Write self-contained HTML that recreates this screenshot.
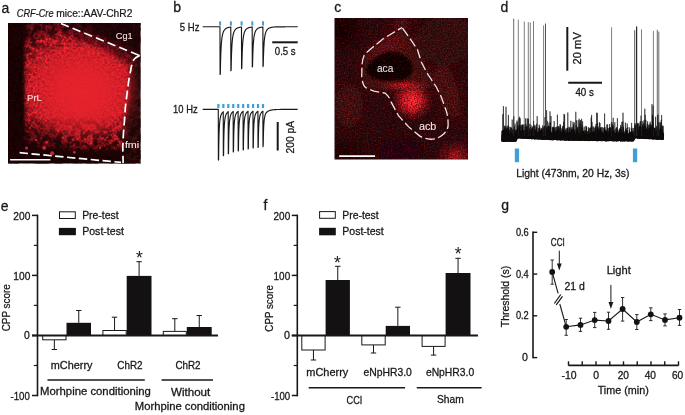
<!DOCTYPE html>
<html lang="en"><head><meta charset="utf-8"><title>Figure</title>
<style>
html,body{margin:0;padding:0;background:#fff;}
body{width:685px;height:415px;overflow:hidden;}
svg{display:block;font-family:"Liberation Sans",sans-serif;}
</style></head><body>
<svg width="685" height="415" viewBox="0 0 685 415">
<rect width="685" height="415" fill="#fff"/>
<defs>
<clipPath id="clipA"><rect x="8" y="23" width="132.6" height="140.5"/></clipPath>
<clipPath id="clipC"><rect x="334.5" y="18" width="133.5" height="141.5"/></clipPath>
<filter id="blur1" x="-20%" y="-20%" width="140%" height="140%"><feGaussianBlur stdDeviation="1"/></filter>
<filter id="blur2" x="-20%" y="-20%" width="140%" height="140%"><feGaussianBlur stdDeviation="2"/></filter>
<filter id="blur3" x="-20%" y="-20%" width="140%" height="140%"><feGaussianBlur stdDeviation="3.5"/></filter>
<filter id="blur6" x="-30%" y="-30%" width="160%" height="160%"><feGaussianBlur stdDeviation="6"/></filter>
<filter id="blur10" x="-50%" y="-50%" width="200%" height="200%"><feGaussianBlur stdDeviation="10"/></filter>
<filter id="texA" filterUnits="userSpaceOnUse" x="8" y="23" width="133" height="141" color-interpolation-filters="sRGB">
  <feTurbulence type="fractalNoise" baseFrequency="0.42" numOctaves="3" seed="7" result="n"/>
  <feColorMatrix in="n" type="matrix" values="1 0 0 0 0  1 0 0 0 0  1 0 0 0 0  0 0 0 0 1" result="ng"/>
  <feComposite in="SourceGraphic" in2="ng" operator="arithmetic" k1="1.5" k2="0.25" k3="0" k4="0" result="m"/>
  <feColorMatrix in="n" type="matrix" values="0 0.6 0 0 -0.36  0 0.07 0 0 -0.04  0 0.09 0 0 -0.05  0 0 0 0 1" result="nr"/>
  <feComposite in="m" in2="nr" operator="arithmetic" k1="0" k2="1" k3="1" k4="0"/>
</filter>
<filter id="texC" filterUnits="userSpaceOnUse" x="334.5" y="18" width="133.5" height="141.5" color-interpolation-filters="sRGB">
  <feTurbulence type="fractalNoise" baseFrequency="0.7" numOctaves="2" seed="3" result="n"/>
  <feColorMatrix in="n" type="matrix" values="1 0 0 0 0  1 0 0 0 0  1 0 0 0 0  0 0 0 0 1" result="ng"/>
  <feComposite in="SourceGraphic" in2="ng" operator="arithmetic" k1="2.0" k2="0.0" k3="0" k4="0" result="m"/>
  <feColorMatrix in="n" type="matrix" values="0 0.8 0 0 -0.43  0 0.09 0 0 -0.05  0 0.1 0 0 -0.055  0 0 0 0 1" result="nr"/>
  <feComposite in="m" in2="nr" operator="arithmetic" k1="0" k2="1" k3="1" k4="0"/>
</filter>
<filter id="blotch" filterUnits="userSpaceOnUse" x="8" y="23" width="133" height="141" color-interpolation-filters="sRGB">
  <feTurbulence type="fractalNoise" baseFrequency="0.16" numOctaves="3" seed="21" result="n"/>
  <feColorMatrix in="n" type="matrix" values="0 0 0 0 0  0 0 0 0 0  0 0 0 0 0  5 0 0 0 -2.0" result="mask"/>
  <feComposite in="SourceGraphic" in2="mask" operator="in"/>
</filter>
<radialGradient id="gAd" gradientUnits="userSpaceOnUse" cx="80" cy="90" r="84" gradientTransform="translate(80 90) scale(1 0.88) translate(-80 -90)">
  <stop offset="0" stop-color="#1a0406" stop-opacity="0"/>
  <stop offset="0.58" stop-color="#1a0406" stop-opacity="0"/>
  <stop offset="0.85" stop-color="#1a0406" stop-opacity="0.8"/>
  <stop offset="1" stop-color="#1a0406" stop-opacity="0.95"/>
</radialGradient>
<linearGradient id="gAb" gradientUnits="userSpaceOnUse" x1="0" y1="116" x2="0" y2="152">
  <stop offset="0" stop-color="#1a0406" stop-opacity="0"/>
  <stop offset="1" stop-color="#1a0406" stop-opacity="0.9"/>
</linearGradient>
<radialGradient id="gA1" cx="0.5" cy="0.5" r="0.5">
  <stop offset="0" stop-color="#ee2630" stop-opacity="1"/>
  <stop offset="0.55" stop-color="#e0222c" stop-opacity="0.75"/>
  <stop offset="1" stop-color="#d01e28" stop-opacity="0"/>
</radialGradient>
<radialGradient id="gA2" cx="0.5" cy="0.5" r="0.5">
  <stop offset="0" stop-color="#e8232d" stop-opacity="0.95"/>
  <stop offset="0.4" stop-color="#e4222c" stop-opacity="0.9"/>
  <stop offset="0.7" stop-color="#de202a" stop-opacity="0.6"/>
  <stop offset="1" stop-color="#d81f29" stop-opacity="0"/>
</radialGradient>
<radialGradient id="gC1" cx="0.5" cy="0.5" r="0.5">
  <stop offset="0" stop-color="#f02832" stop-opacity="1"/>
  <stop offset="0.4" stop-color="#d8202a" stop-opacity="0.8"/>
  <stop offset="1" stop-color="#a01018" stop-opacity="0"/>
</radialGradient>
<radialGradient id="gC2" cx="0.5" cy="0.5" r="0.5">
  <stop offset="0" stop-color="#c01820" stop-opacity="0.9"/>
  <stop offset="1" stop-color="#801018" stop-opacity="0"/>
</radialGradient>
</defs>

<text x="1.4" y="12.6" font-size="14" fill="#1a1718" stroke="#1a1718" stroke-width="0.28" >a</text>
<text x="16.8" y="16.8" font-size="10.2" textLength="36.7" lengthAdjust="spacingAndGlyphs" fill="#1a1718" stroke="#1a1718" stroke-width="0.22" font-style="italic">CRF-Cre</text>
<text x="56.2" y="16.8" font-size="10.2" textLength="76.2" lengthAdjust="spacingAndGlyphs" fill="#1a1718" stroke="#1a1718" stroke-width="0.22" >mice::AAV-ChR2</text>
<g clip-path="url(#clipA)">
<g filter="url(#texA)">
<rect x="6" y="21" width="137" height="145" fill="#200507"/>
<g filter="url(#blur3)">
<polygon points="26,20 66,20 104,38 137,53 132,70 60,50 26,50" fill="#6e1117"/>
<polygon points="132,60 128,100 125,160 141,160 141,60" fill="#3a090c"/>
</g>
<g filter="url(#blur2)">
<polygon points="25,44 40,36 62,33 98,48 131,66 129,90 126,120 123,150 80,151 40,148 25,140 24,90" fill="#c41b25"/>
</g>
<g filter="url(#blur6)">
<polygon points="14,147 126,153 126,172 14,172" fill="#1a0406" opacity="0.9"/>
<polygon points="18,120 62,130 70,152 18,150" fill="#1a0406" opacity="0.5"/>
<polygon points="60,138 124,138 124,154 60,154" fill="#1a0406" opacity="0.35"/>
</g>
<g filter="url(#blur1)"><polygon points="5,20 26,20 23.5,40 23,60 24,110 22.5,150 5,168" fill="#150304"/></g>
</g>
<ellipse cx="82" cy="92" rx="58" ry="52" fill="url(#gA2)"/>
<g filter="url(#blotch)"><rect x="8" y="23" width="133" height="141" fill="url(#gAd)"/><rect x="8" y="110" width="133" height="54" fill="url(#gAb)"/></g>
<circle cx="26.5" cy="148.1" r="1.5" fill="#e8262e" opacity="0.9"/>
<circle cx="44.2" cy="147.8" r="1.9" fill="#e8262e" opacity="0.9"/>
<circle cx="46.6" cy="142.3" r="1.4" fill="#e8262e" opacity="0.9"/>
<circle cx="52.1" cy="153.2" r="2.0" fill="#e8262e" opacity="0.9"/>
<circle cx="74.3" cy="152.3" r="1.4" fill="#e8262e" opacity="0.9"/>
<circle cx="63.4" cy="137.7" r="1.3" fill="#e8262e" opacity="0.9"/>
<circle cx="90.8" cy="143.2" r="1.2" fill="#e8262e" opacity="0.9"/>
<circle cx="72.9" cy="139.6" r="1.2" fill="#e8262e" opacity="0.9"/>
<circle cx="36" cy="140" r="1.1" fill="#e8262e" opacity="0.9"/>
<circle cx="58" cy="131" r="1.2" fill="#e8262e" opacity="0.9"/>
<circle cx="100" cy="148" r="1.0" fill="#e8262e" opacity="0.9"/>
<circle cx="112" cy="141" r="1.0" fill="#e8262e" opacity="0.9"/>
<circle cx="30" cy="128" r="1.0" fill="#e8262e" opacity="0.9"/>
<circle cx="84" cy="133" r="1.1" fill="#e8262e" opacity="0.9"/>
</g>
<path d="M60 23.2 L139.6 55.6" fill="none" stroke="#fff" stroke-width="1.7" stroke-dasharray="8.4 4.2" stroke-dashoffset="-1"/>
<path d="M139.8 55.4 Q134 58 132.3 62.1 L131.2 67.3 L128.8 80.3 L127.1 93.3 L125.4 106.8 L124.5 120.1 L123.4 133.6 L122.8 146.6 L123.1 163" fill="none" stroke="#fff" stroke-width="1.7" stroke-dasharray="8.9 4.2" stroke-dashoffset="0.2"/>
<path d="M19.6 152.7 L121 162.4" fill="none" stroke="#fff" stroke-width="1.7" stroke-dasharray="8.4 3.5"/>
<line x1="10.10" y1="159.70" x2="50.30" y2="159.70" stroke="#fff" stroke-width="1.6" />
<text x="27.1" y="100.6" font-size="9.8" textLength="14.7" lengthAdjust="spacingAndGlyphs" fill="#ffd9d9" stroke="#ffd9d9" stroke-width="0.1" >PrL</text>
<text x="115.8" y="38.8" font-size="9.8" textLength="16.9" lengthAdjust="spacingAndGlyphs" fill="#f3e2e2" stroke="#f3e2e2" stroke-width="0.1" >Cg1</text>
<text x="124.9" y="148.0" font-size="9.8" textLength="14.3" lengthAdjust="spacingAndGlyphs" fill="#f6eaea" stroke="#f6eaea" stroke-width="0.1" >fmi</text>
<text x="173.2" y="12.0" font-size="14" fill="#1a1718" stroke="#1a1718" stroke-width="0.28" >b</text>
<text x="179.8" y="31.4" font-size="10.2" textLength="19.6" lengthAdjust="spacingAndGlyphs" fill="#1a1718" stroke="#1a1718" stroke-width="0.28" >5 Hz</text>
<text x="173.1" y="113.1" font-size="10.2" textLength="24.5" lengthAdjust="spacingAndGlyphs" fill="#1a1718" stroke="#1a1718" stroke-width="0.28" >10 Hz</text>
<path d="M202.70 26.80 L219.98 26.80 L220.10 74.40 L220.33 73.94 L220.35 72.91 L220.37 71.50 L220.40 69.80 L220.44 67.88 L220.48 65.82 L220.53 63.68 L220.58 61.49 L220.64 59.32 L220.71 57.18 L220.78 55.10 L220.85 53.11 L220.92 51.22 L221.01 49.44 L221.09 47.76 L221.18 46.20 L221.27 44.75 L221.37 43.40 L221.47 42.16 L221.58 41.01 L221.69 39.95 L221.80 38.97 L221.91 38.07 L222.03 37.24 L222.16 36.48 L222.28 35.77 L222.41 35.12 L222.55 34.52 L222.69 33.96 L222.83 33.45 L222.97 32.97 L223.12 32.53 L223.27 32.12 L223.42 31.75 L223.58 31.40 L223.74 31.07 L223.90 30.77 L224.06 30.49 L224.23 30.23 L224.41 29.98 L224.58 29.76 L224.76 29.55 L224.94 29.35 L225.12 29.17 L225.31 29.00 L225.50 28.84 L225.70 28.70 L225.89 28.56 L226.09 28.43 L226.29 28.31 L226.50 28.20 L226.70 28.10 L226.91 28.00 L227.13 27.91 L227.34 27.83 L227.56 27.75 L227.78 27.67 L228.01 27.61 L228.23 27.54 L228.46 27.48 L228.69 27.43 L228.93 27.38 L229.17 27.33 L229.41 27.29 L229.65 27.25 L229.89 27.21 L230.14 27.18 L230.39 27.14 L230.64 27.12 L230.90 27.09 L230.78 27.09 L230.90 70.70 L231.13 70.28 L231.14 69.34 L231.17 68.05 L231.20 66.49 L231.24 64.74 L231.28 62.85 L231.33 60.89 L231.38 58.88 L231.44 56.89 L231.50 54.92 L231.57 53.02 L231.64 51.19 L231.72 49.44 L231.80 47.80 L231.88 46.26 L231.97 44.82 L232.07 43.47 L232.16 42.23 L232.26 41.08 L232.37 40.02 L232.47 39.04 L232.58 38.13 L232.70 37.30 L232.82 36.53 L232.94 35.82 L233.07 35.16 L233.19 34.56 L233.33 34.00 L233.46 33.48 L233.60 33.01 L233.74 32.57 L233.89 32.16 L234.04 31.78 L234.19 31.42 L234.35 31.10 L234.50 30.80 L234.67 30.51 L234.83 30.25 L235.00 30.01 L235.17 29.78 L235.34 29.57 L235.52 29.38 L235.70 29.20 L235.88 29.03 L236.06 28.87 L236.25 28.72 L236.44 28.58 L236.64 28.45 L236.84 28.34 L237.03 28.22 L237.24 28.12 L237.44 28.02 L237.65 27.93 L237.86 27.85 L238.08 27.77 L238.29 27.70 L238.51 27.63 L238.73 27.56 L238.96 27.50 L239.18 27.45 L239.41 27.40 L239.65 27.35 L239.88 27.31 L240.12 27.26 L240.36 27.23 L240.60 27.19 L240.85 27.16 L241.10 27.13 L241.35 27.10 L241.60 27.07 L241.48 27.07 L241.60 68.70 L241.83 68.30 L241.84 67.40 L241.87 66.17 L241.90 64.69 L241.94 63.01 L241.98 61.21 L242.03 59.33 L242.08 57.42 L242.14 55.52 L242.20 53.64 L242.27 51.82 L242.34 50.07 L242.42 48.41 L242.50 46.84 L242.58 45.37 L242.67 43.99 L242.77 42.71 L242.86 41.53 L242.96 40.43 L243.07 39.42 L243.17 38.48 L243.28 37.62 L243.40 36.82 L243.52 36.09 L243.64 35.41 L243.77 34.78 L243.89 34.21 L244.03 33.67 L244.16 33.18 L244.30 32.72 L244.44 32.30 L244.59 31.91 L244.74 31.55 L244.89 31.21 L245.05 30.90 L245.20 30.61 L245.37 30.34 L245.53 30.10 L245.70 29.86 L245.87 29.65 L246.04 29.45 L246.22 29.26 L246.40 29.09 L246.58 28.92 L246.76 28.77 L246.95 28.63 L247.14 28.50 L247.34 28.38 L247.54 28.27 L247.73 28.16 L247.94 28.06 L248.14 27.97 L248.35 27.88 L248.56 27.80 L248.78 27.72 L248.99 27.65 L249.21 27.59 L249.43 27.53 L249.66 27.47 L249.88 27.42 L250.11 27.37 L250.35 27.32 L250.58 27.28 L250.82 27.24 L251.06 27.21 L251.30 27.17 L251.55 27.14 L251.80 27.11 L252.05 27.09 L252.30 27.06 L252.18 27.06 L252.30 66.90 L252.53 66.51 L252.54 65.66 L252.57 64.48 L252.60 63.06 L252.64 61.46 L252.68 59.73 L252.73 57.94 L252.78 56.11 L252.84 54.28 L252.90 52.49 L252.97 50.75 L253.04 49.07 L253.12 47.48 L253.20 45.98 L253.28 44.57 L253.37 43.26 L253.47 42.03 L253.56 40.90 L253.66 39.84 L253.77 38.87 L253.87 37.98 L253.98 37.15 L254.10 36.39 L254.22 35.69 L254.34 35.04 L254.47 34.44 L254.59 33.89 L254.73 33.38 L254.86 32.91 L255.00 32.47 L255.14 32.07 L255.29 31.69 L255.44 31.35 L255.59 31.02 L255.75 30.73 L255.90 30.45 L256.07 30.19 L256.23 29.95 L256.40 29.73 L256.57 29.53 L256.74 29.33 L256.92 29.16 L257.10 28.99 L257.28 28.83 L257.46 28.69 L257.65 28.55 L257.84 28.43 L258.04 28.31 L258.24 28.20 L258.43 28.10 L258.64 28.01 L258.84 27.92 L259.05 27.83 L259.26 27.76 L259.48 27.68 L259.69 27.62 L259.91 27.56 L260.13 27.50 L260.36 27.44 L260.58 27.39 L260.81 27.35 L261.05 27.30 L261.28 27.26 L261.52 27.22 L261.76 27.19 L262.00 27.16 L262.25 27.13 L262.50 27.10 L262.75 27.07 L263.00 27.05 L262.88 27.05 L263.00 66.60 L263.25 65.37 L263.30 62.79 L263.38 59.50 L263.49 55.90 L263.61 52.31 L263.75 48.93 L263.91 45.86 L264.08 43.15 L264.27 40.81 L264.48 38.80 L264.70 37.09 L264.94 35.64 L265.19 34.40 L265.46 33.34 L265.73 32.44 L266.02 31.67 L266.33 31.00 L266.65 30.43 L266.98 29.94 L267.32 29.51 L267.67 29.15 L268.04 28.83 L268.42 28.55 L268.81 28.31 L269.21 28.10 L269.62 27.91 L270.05 27.75 L270.48 27.62 L270.93 27.50 L271.39 27.39 L271.85 27.30 L272.33 27.22 L272.82 27.16 L273.32 27.10 L273.83 27.05 L274.35 27.01 L274.88 26.97 L275.42 26.94 L275.98 26.92 L276.54 26.90 L277.11 26.88 L277.69 26.87 L278.28 26.85 L278.88 26.84 L279.49 26.84 L280.11 26.83 L280.74 26.82 L281.38 26.82 L282.02 26.81 L282.68 26.81 L283.35 26.81 L284.02 26.81 L284.71 26.81 L285.40 26.80 L286.10 26.80 L286.82 26.80 L287.54 26.80 L288.27 26.80 L289.00 26.80 L289.75 26.80 L290.51 26.80 L291.27 26.80 L292.05 26.80 L292.83 26.80 L293.62 26.80 L294.42 26.80 L295.23 26.80 L296.04 26.80 L296.87 26.80 L297.70 26.80" fill="none" stroke="#1a1718" stroke-width="1.14" stroke-linejoin="round"/>
<line x1="220.10" y1="21.30" x2="220.10" y2="25.60" stroke="#3f9fd6" stroke-width="2.0" />
<line x1="230.90" y1="21.30" x2="230.90" y2="25.60" stroke="#3f9fd6" stroke-width="2.0" />
<line x1="241.60" y1="21.30" x2="241.60" y2="25.60" stroke="#3f9fd6" stroke-width="2.0" />
<line x1="252.30" y1="21.30" x2="252.30" y2="25.60" stroke="#3f9fd6" stroke-width="2.0" />
<line x1="263.00" y1="21.30" x2="263.00" y2="25.60" stroke="#3f9fd6" stroke-width="2.0" />
<path d="M202.70 109.40 L218.28 109.40 L218.40 160.10 L218.62 159.69 L218.63 158.80 L218.64 157.57 L218.66 156.08 L218.67 154.41 L218.69 152.62 L218.71 150.75 L218.74 148.84 L218.76 146.94 L218.79 145.06 L218.82 143.24 L218.86 141.48 L218.89 139.80 L218.93 138.20 L218.97 136.68 L219.01 135.24 L219.05 133.89 L219.09 132.62 L219.14 131.42 L219.18 130.29 L219.23 129.22 L219.28 128.21 L219.33 127.27 L219.39 126.37 L219.44 125.52 L219.50 124.72 L219.56 123.96 L219.62 123.25 L219.68 122.57 L219.74 121.93 L219.81 121.32 L219.87 120.74 L219.94 120.20 L220.01 119.69 L220.08 119.20 L220.15 118.74 L220.22 118.31 L220.30 117.90 L220.37 117.52 L220.45 117.15 L220.53 116.81 L220.61 116.49 L220.69 116.18 L220.77 115.89 L220.85 115.62 L220.94 115.36 L221.03 115.12 L221.11 114.89 L221.20 114.67 L221.29 114.46 L221.38 114.27 L221.48 114.08 L221.57 113.90 L221.67 113.73 L221.76 113.57 L221.86 113.42 L221.96 113.27 L222.06 113.13 L222.16 112.99 L222.26 112.86 L222.37 112.74 L222.47 112.62 L222.58 112.50 L222.69 112.39 L222.79 112.28 L222.90 112.18 L223.02 112.08 L223.13 111.98 L223.24 111.89 L223.36 111.80 L223.24 111.80 L223.36 155.80 L223.58 155.43 L223.59 154.61 L223.60 153.49 L223.61 152.13 L223.63 150.60 L223.65 148.95 L223.67 147.24 L223.69 145.50 L223.72 143.75 L223.75 142.04 L223.78 140.37 L223.81 138.76 L223.85 137.22 L223.88 135.75 L223.92 134.37 L223.96 133.05 L224.00 131.81 L224.05 130.65 L224.09 129.55 L224.14 128.51 L224.19 127.54 L224.24 126.62 L224.29 125.75 L224.34 124.93 L224.40 124.16 L224.45 123.42 L224.51 122.73 L224.57 122.07 L224.63 121.45 L224.70 120.86 L224.76 120.31 L224.83 119.78 L224.89 119.28 L224.96 118.81 L225.03 118.37 L225.10 117.95 L225.18 117.55 L225.25 117.18 L225.33 116.83 L225.40 116.50 L225.48 116.18 L225.56 115.89 L225.64 115.61 L225.73 115.34 L225.81 115.09 L225.89 114.86 L225.98 114.63 L226.07 114.42 L226.16 114.22 L226.25 114.03 L226.34 113.85 L226.43 113.68 L226.53 113.52 L226.62 113.37 L226.72 113.22 L226.82 113.08 L226.91 112.94 L227.01 112.81 L227.12 112.69 L227.22 112.57 L227.32 112.45 L227.43 112.34 L227.53 112.24 L227.64 112.13 L227.75 112.04 L227.86 111.94 L227.97 111.85 L228.08 111.76 L228.20 111.68 L228.31 111.59 L228.19 111.59 L228.31 153.80 L228.53 153.45 L228.54 152.66 L228.55 151.59 L228.57 150.28 L228.58 148.82 L228.60 147.25 L228.62 145.61 L228.65 143.94 L228.67 142.27 L228.70 140.63 L228.73 139.04 L228.77 137.50 L228.80 136.02 L228.84 134.62 L228.88 133.29 L228.92 132.03 L228.96 130.85 L229.00 129.73 L229.05 128.68 L229.09 127.69 L229.14 126.76 L229.19 125.88 L229.24 125.05 L229.30 124.26 L229.35 123.52 L229.41 122.82 L229.47 122.15 L229.53 121.53 L229.59 120.93 L229.65 120.37 L229.72 119.84 L229.78 119.33 L229.85 118.86 L229.92 118.41 L229.99 117.98 L230.06 117.58 L230.13 117.20 L230.21 116.84 L230.28 116.51 L230.36 116.19 L230.44 115.89 L230.52 115.61 L230.60 115.34 L230.68 115.09 L230.76 114.85 L230.85 114.62 L230.94 114.41 L231.02 114.21 L231.11 114.02 L231.20 113.83 L231.29 113.66 L231.39 113.50 L231.48 113.34 L231.58 113.19 L231.67 113.05 L231.77 112.92 L231.87 112.79 L231.97 112.66 L232.07 112.54 L232.17 112.43 L232.28 112.32 L232.38 112.22 L232.49 112.11 L232.60 112.02 L232.70 111.92 L232.81 111.83 L232.93 111.74 L233.04 111.66 L233.15 111.58 L233.27 111.50 L233.15 111.50 L233.27 151.90 L233.49 151.56 L233.50 150.81 L233.51 149.78 L233.52 148.53 L233.54 147.13 L233.56 145.63 L233.58 144.06 L233.60 142.46 L233.63 140.87 L233.66 139.30 L233.69 137.77 L233.72 136.29 L233.76 134.88 L233.79 133.54 L233.83 132.27 L233.87 131.06 L233.91 129.93 L233.96 128.86 L234.00 127.86 L234.05 126.91 L234.10 126.01 L234.15 125.17 L234.20 124.38 L234.25 123.63 L234.31 122.92 L234.36 122.24 L234.42 121.61 L234.48 121.01 L234.54 120.44 L234.61 119.90 L234.67 119.39 L234.74 118.91 L234.80 118.45 L234.87 118.02 L234.94 117.62 L235.01 117.23 L235.09 116.87 L235.16 116.53 L235.24 116.20 L235.31 115.90 L235.39 115.61 L235.47 115.34 L235.55 115.08 L235.64 114.84 L235.72 114.61 L235.80 114.40 L235.89 114.19 L235.98 114.00 L236.07 113.82 L236.16 113.64 L236.25 113.48 L236.34 113.32 L236.44 113.17 L236.53 113.03 L236.63 112.90 L236.73 112.77 L236.82 112.64 L236.92 112.52 L237.03 112.41 L237.13 112.30 L237.23 112.20 L237.34 112.10 L237.44 112.00 L237.55 111.90 L237.66 111.81 L237.77 111.73 L237.88 111.64 L237.99 111.56 L238.11 111.48 L238.22 111.41 L238.10 111.41 L238.22 150.90 L238.44 150.57 L238.45 149.84 L238.46 148.83 L238.48 147.61 L238.49 146.25 L238.51 144.78 L238.53 143.24 L238.56 141.68 L238.58 140.13 L238.61 138.59 L238.64 137.10 L238.68 135.66 L238.71 134.28 L238.75 132.97 L238.79 131.73 L238.83 130.55 L238.87 129.45 L238.91 128.40 L238.96 127.42 L239.00 126.50 L239.05 125.62 L239.10 124.80 L239.15 124.02 L239.21 123.29 L239.26 122.60 L239.32 121.94 L239.38 121.32 L239.44 120.73 L239.50 120.18 L239.56 119.65 L239.63 119.16 L239.69 118.68 L239.76 118.24 L239.83 117.82 L239.90 117.42 L239.97 117.05 L240.04 116.69 L240.12 116.36 L240.19 116.04 L240.27 115.75 L240.35 115.47 L240.43 115.20 L240.51 114.95 L240.59 114.71 L240.67 114.49 L240.76 114.28 L240.85 114.08 L240.93 113.89 L241.02 113.71 L241.11 113.54 L241.20 113.38 L241.30 113.23 L241.39 113.09 L241.49 112.95 L241.58 112.81 L241.68 112.69 L241.78 112.57 L241.88 112.45 L241.98 112.34 L242.08 112.23 L242.19 112.13 L242.29 112.03 L242.40 111.94 L242.51 111.85 L242.61 111.76 L242.72 111.67 L242.84 111.59 L242.95 111.51 L243.06 111.43 L243.18 111.36 L243.06 111.36 L243.18 149.90 L243.40 149.58 L243.41 148.86 L243.42 147.88 L243.43 146.69 L243.45 145.36 L243.47 143.92 L243.49 142.43 L243.51 140.91 L243.54 139.39 L243.57 137.89 L243.60 136.43 L243.63 135.03 L243.67 133.68 L243.70 132.40 L243.74 131.19 L243.78 130.04 L243.82 128.96 L243.87 127.95 L243.91 126.99 L243.96 126.08 L244.01 125.23 L244.06 124.43 L244.11 123.67 L244.16 122.96 L244.22 122.28 L244.27 121.64 L244.33 121.03 L244.39 120.46 L244.45 119.92 L244.52 119.41 L244.58 118.92 L244.65 118.46 L244.71 118.03 L244.78 117.62 L244.85 117.23 L244.92 116.86 L245.00 116.52 L245.07 116.19 L245.15 115.88 L245.22 115.59 L245.30 115.32 L245.38 115.06 L245.46 114.82 L245.55 114.59 L245.63 114.37 L245.71 114.16 L245.80 113.97 L245.89 113.78 L245.98 113.61 L246.07 113.44 L246.16 113.29 L246.25 113.14 L246.35 113.00 L246.44 112.86 L246.54 112.73 L246.64 112.61 L246.73 112.49 L246.83 112.38 L246.94 112.27 L247.04 112.16 L247.14 112.06 L247.25 111.97 L247.35 111.88 L247.46 111.79 L247.57 111.70 L247.68 111.62 L247.79 111.54 L247.90 111.46 L248.02 111.39 L248.13 111.31 L248.01 111.31 L248.13 148.90 L248.35 148.58 L248.36 147.89 L248.37 146.93 L248.39 145.77 L248.40 144.47 L248.42 143.07 L248.44 141.61 L248.47 140.13 L248.49 138.65 L248.52 137.19 L248.55 135.76 L248.59 134.39 L248.62 133.08 L248.66 131.84 L248.70 130.65 L248.74 129.54 L248.78 128.48 L248.82 127.49 L248.87 126.55 L248.91 125.67 L248.96 124.84 L249.01 124.06 L249.06 123.32 L249.12 122.62 L249.17 121.96 L249.23 121.34 L249.29 120.75 L249.35 120.19 L249.41 119.66 L249.47 119.16 L249.54 118.68 L249.60 118.24 L249.67 117.81 L249.74 117.41 L249.81 117.04 L249.88 116.68 L249.95 116.34 L250.03 116.02 L250.10 115.72 L250.18 115.44 L250.26 115.17 L250.34 114.92 L250.42 114.68 L250.50 114.46 L250.58 114.25 L250.67 114.05 L250.76 113.86 L250.84 113.68 L250.93 113.51 L251.02 113.35 L251.11 113.19 L251.21 113.05 L251.30 112.91 L251.40 112.78 L251.49 112.65 L251.59 112.53 L251.69 112.41 L251.79 112.30 L251.89 112.20 L251.99 112.10 L252.10 112.00 L252.20 111.91 L252.31 111.81 L252.42 111.73 L252.52 111.64 L252.63 111.56 L252.75 111.49 L252.86 111.41 L252.97 111.34 L253.09 111.27 L252.97 111.27 L253.09 147.90 L253.31 147.59 L253.32 146.91 L253.33 145.98 L253.34 144.85 L253.36 143.58 L253.38 142.22 L253.40 140.80 L253.42 139.35 L253.45 137.91 L253.48 136.48 L253.51 135.10 L253.54 133.76 L253.58 132.48 L253.61 131.27 L253.65 130.11 L253.69 129.03 L253.73 128.00 L253.78 127.03 L253.82 126.12 L253.87 125.26 L253.92 124.45 L253.97 123.69 L254.02 122.97 L254.07 122.29 L254.13 121.64 L254.18 121.04 L254.24 120.46 L254.30 119.91 L254.36 119.40 L254.43 118.91 L254.49 118.45 L254.56 118.01 L254.62 117.60 L254.69 117.21 L254.76 116.84 L254.83 116.49 L254.91 116.17 L254.98 115.86 L255.06 115.56 L255.13 115.29 L255.21 115.03 L255.29 114.78 L255.37 114.55 L255.46 114.33 L255.54 114.12 L255.62 113.93 L255.71 113.74 L255.80 113.57 L255.89 113.40 L255.98 113.25 L256.07 113.10 L256.16 112.95 L256.26 112.82 L256.35 112.69 L256.45 112.57 L256.55 112.45 L256.64 112.34 L256.74 112.23 L256.85 112.13 L256.95 112.03 L257.05 111.93 L257.16 111.84 L257.26 111.75 L257.37 111.67 L257.48 111.59 L257.59 111.51 L257.70 111.43 L257.81 111.36 L257.93 111.29 L258.04 111.22 L257.92 111.22 L258.04 147.40 L258.26 147.10 L258.27 146.43 L258.28 145.50 L258.30 144.39 L258.31 143.14 L258.33 141.79 L258.35 140.39 L258.38 138.96 L258.40 137.54 L258.43 136.13 L258.46 134.76 L258.50 133.45 L258.53 132.18 L258.57 130.98 L258.61 129.85 L258.65 128.77 L258.69 127.76 L258.73 126.80 L258.78 125.90 L258.82 125.05 L258.87 124.26 L258.92 123.50 L258.97 122.79 L259.03 122.12 L259.08 121.48 L259.14 120.88 L259.20 120.32 L259.26 119.78 L259.32 119.27 L259.38 118.79 L259.45 118.33 L259.51 117.90 L259.58 117.49 L259.65 117.11 L259.72 116.75 L259.79 116.40 L259.86 116.08 L259.94 115.77 L260.01 115.48 L260.09 115.21 L260.17 114.95 L260.25 114.71 L260.33 114.48 L260.41 114.27 L260.49 114.06 L260.58 113.87 L260.67 113.69 L260.75 113.51 L260.84 113.35 L260.93 113.20 L261.02 113.05 L261.12 112.91 L261.21 112.77 L261.31 112.65 L261.40 112.53 L261.50 112.41 L261.60 112.30 L261.70 112.19 L261.80 112.09 L261.90 111.99 L262.01 111.90 L262.11 111.81 L262.22 111.72 L262.33 111.64 L262.43 111.56 L262.54 111.48 L262.66 111.41 L262.77 111.33 L262.88 111.26 L263.00 111.20 L262.88 111.20 L263.00 146.80 L263.24 144.79 L263.30 140.89 L263.38 136.50 L263.48 132.35 L263.60 128.76 L263.74 125.77 L263.90 123.28 L264.08 121.21 L264.27 119.47 L264.48 118.01 L264.70 116.78 L264.94 115.76 L265.19 114.90 L265.45 114.19 L265.73 113.60 L266.02 113.09 L266.32 112.67 L266.64 112.30 L266.97 111.98 L267.31 111.70 L267.67 111.45 L268.04 111.22 L268.41 111.02 L268.80 110.84 L269.21 110.68 L269.62 110.53 L270.04 110.39 L270.48 110.27 L270.92 110.16 L271.38 110.07 L271.85 109.98 L272.33 109.90 L272.82 109.84 L273.32 109.78 L273.83 109.72 L274.35 109.68 L274.88 109.64 L275.42 109.60 L275.97 109.57 L276.53 109.55 L277.10 109.52 L277.69 109.50 L278.28 109.49 L278.88 109.47 L279.49 109.46 L280.11 109.45 L280.73 109.44 L281.37 109.43 L282.02 109.43 L282.68 109.42 L283.34 109.42 L284.02 109.42 L284.70 109.41 L285.40 109.41 L286.10 109.41 L286.81 109.41 L287.53 109.41 L288.26 109.40 L289.00 109.40 L289.75 109.40 L290.51 109.40 L291.27 109.40 L292.04 109.40 L292.83 109.40 L293.62 109.40 L294.42 109.40 L295.23 109.40 L296.04 109.40 L296.87 109.40 L297.70 109.40" fill="none" stroke="#1a1718" stroke-width="1.14" stroke-linejoin="round"/>
<line x1="218.40" y1="104.00" x2="218.40" y2="108.00" stroke="#3f9fd6" stroke-width="2.2" />
<line x1="223.36" y1="104.00" x2="223.36" y2="108.00" stroke="#3f9fd6" stroke-width="2.2" />
<line x1="228.31" y1="104.00" x2="228.31" y2="108.00" stroke="#3f9fd6" stroke-width="2.2" />
<line x1="233.27" y1="104.00" x2="233.27" y2="108.00" stroke="#3f9fd6" stroke-width="2.2" />
<line x1="238.22" y1="104.00" x2="238.22" y2="108.00" stroke="#3f9fd6" stroke-width="2.2" />
<line x1="243.18" y1="104.00" x2="243.18" y2="108.00" stroke="#3f9fd6" stroke-width="2.2" />
<line x1="248.13" y1="104.00" x2="248.13" y2="108.00" stroke="#3f9fd6" stroke-width="2.2" />
<line x1="253.09" y1="104.00" x2="253.09" y2="108.00" stroke="#3f9fd6" stroke-width="2.2" />
<line x1="258.04" y1="104.00" x2="258.04" y2="108.00" stroke="#3f9fd6" stroke-width="2.2" />
<line x1="263.00" y1="104.00" x2="263.00" y2="108.00" stroke="#3f9fd6" stroke-width="2.2" />
<line x1="272.20" y1="42.30" x2="297.70" y2="42.30" stroke="#1a1718" stroke-width="2.0" />
<text x="274.8" y="55.4" font-size="10.2" textLength="20.9" lengthAdjust="spacingAndGlyphs" fill="#1a1718" stroke="#1a1718" stroke-width="0.28" >0.5 s</text>
<line x1="277.70" y1="122.00" x2="277.70" y2="150.50" stroke="#1a1718" stroke-width="2.0" />
<text transform="translate(293.5 137.1) rotate(-90)" font-size="10.4" textLength="32.6" lengthAdjust="spacingAndGlyphs" text-anchor="middle" fill="#1a1718" stroke="#1a1718" stroke-width="0.28">200 pA</text>
<text x="334.2" y="12.1" font-size="14" fill="#1a1718" stroke="#1a1718" stroke-width="0.28" >c</text>
<g clip-path="url(#clipC)">
<g filter="url(#texC)">
<rect x="332" y="16" width="139" height="146" fill="#27070a"/>
<g filter="url(#blur6)">
<polygon points="402,26 385,38 369,49 362,63 362,77 366,88 392,92 420,92 436,84 423,64 416,46" fill="#420b0f"/>
<ellipse cx="386" cy="46" rx="19" ry="6" fill="#5e1015" transform="rotate(-32 386 46)"/>
<ellipse cx="349" cy="106" rx="14" ry="22" fill="#3c0a0e"/>
<ellipse cx="448" cy="92" rx="10" ry="28" fill="#480d11" transform="rotate(-16 448 92)"/>
<ellipse cx="446" cy="40" rx="30" ry="24" fill="#2f080b"/>
<ellipse cx="342" cy="30" rx="16" ry="18" fill="#180405"/>
<ellipse cx="345" cy="152" rx="16" ry="10" fill="#1c0506"/>
<ellipse cx="400" cy="150" rx="22" ry="12" fill="#220608"/>
<ellipse cx="402" cy="21" rx="4" ry="5" fill="#8a161c"/>
</g>
<ellipse cx="412" cy="101" rx="21" ry="20" fill="url(#gC1)"/>
<ellipse cx="404" cy="85.5" rx="30" ry="6" fill="url(#gC2)"/>
<ellipse cx="456" cy="156" rx="21" ry="17" fill="url(#gC2)" opacity="0.85"/>
<g filter="url(#blur1)"><path d="M366 69.5 Q371 57 389 51.5 Q407 52.5 412.5 65 Q414 76 404 79.5 Q385 83 372 78 Q367 74 366 69.5 Z" fill="#0e0203"/></g>
<g filter="url(#blur2)"><path d="M393 110 L395 126" stroke="#120304" stroke-width="3" fill="none"/></g>
</g>
</g>
<path d="M402 27.5 L394 32.3 L383.2 38.8 L372.4 47.5 Q365.5 53.5 364.4 54.7 Q362.2 60 362 65 L361.7 76.5 Q362.5 85 365.5 87.5 L373.9 91.2 L385.2 93.2 Q389 96 391.3 102.4 L398.5 115.7 L408.7 126.9 L419.9 136.1 Q426 139.6 432.2 139.2 Q438.5 138.5 442.4 135.1 Q447.5 131 448.1 125.9 Q448.3 118 446.5 111.6 L441.4 97.3 L436.3 87 L431.7 80 L427.3 73.5 L421.3 62 L417.5 49.7 L409.7 38.1 Z" fill="none" stroke="#f6e4e4" stroke-width="1.3" stroke-dasharray="9.4 3.5" stroke-dashoffset="4.7"/>
<line x1="339.20" y1="156.10" x2="375.00" y2="156.10" stroke="#fff" stroke-width="1.7" />
<text x="377.0" y="71.8" font-size="10" textLength="16.3" lengthAdjust="spacingAndGlyphs" fill="#eadfdf" stroke="#eadfdf" stroke-width="0.1" >aca</text>
<text x="418.9" y="130.4" font-size="10" textLength="17.4" lengthAdjust="spacingAndGlyphs" fill="#f2e8e8" stroke="#f2e8e8" stroke-width="0.1" >acb</text>
<text x="500.6" y="12.0" font-size="14" fill="#1a1718" stroke="#1a1718" stroke-width="0.28" >d</text>
<path d="M501.70 141.36 L501.80 130.83 L501.90 141.23 L502.00 134.56 L502.10 141.52 L502.20 135.27 L502.30 141.38 L502.40 130.34 L502.50 141.51 L502.60 130.17 L502.70 141.00 L502.80 114.23 L502.90 141.45 L503.00 131.58 L503.10 141.11 L503.20 135.48 L503.30 141.27 L503.40 106.20 L503.50 141.72 L503.60 130.49 L503.70 141.86 L503.80 130.79 L503.90 141.01 L504.00 130.12 L504.10 141.54 L504.20 130.07 L504.30 141.48 L504.40 125.68 L504.50 141.79 L504.60 130.97 L504.70 141.14 L504.80 127.31 L504.90 141.10 L505.00 127.55 L505.10 141.95 L505.20 135.46 L505.30 141.98 L505.40 125.87 L505.50 141.15 L505.60 130.24 L505.70 141.26 L505.80 131.42 L505.90 140.99 L506.00 106.77 L506.10 141.77 L506.20 129.32 L506.30 141.65 L506.40 128.37 L506.50 140.97 L506.60 128.82 L506.70 141.57 L506.80 130.27 L506.90 141.12 L507.00 126.25 L507.10 141.51 L507.20 135.02 L507.30 141.96 L507.40 135.48 L507.50 141.22 L507.60 127.65 L507.70 140.90 L507.80 132.39 L507.90 141.10 L508.00 125.50 L508.10 141.01 L508.20 128.27 L508.30 141.77 L508.40 114.93 L508.50 141.17 L508.60 126.26 L508.70 141.26 L508.80 134.69 L508.90 141.65 L509.00 130.07 L509.10 141.35 L509.20 129.22 L509.30 140.97 L509.40 134.29 L509.50 141.58 L509.60 135.27 L509.70 141.88 L509.80 134.61 L509.90 141.49 L510.00 126.82 L510.10 141.78 L510.20 133.68 L510.30 141.30 L510.40 127.34 L510.50 141.59 L510.60 133.84 L510.70 141.68 L510.80 131.64 L510.90 141.65 L511.00 133.42 L511.10 141.19 L511.20 127.91 L511.30 141.19 L511.40 133.60 L511.50 141.91 L511.60 127.57 L511.70 141.93 L511.80 132.76 L511.90 141.11 L512.00 134.51 L512.10 141.28 L512.20 119.56 L512.30 141.83 L512.40 134.51 L512.50 141.76 L512.60 135.12 L512.70 140.99 L512.80 129.53 L512.90 141.37 L513.00 135.18 L513.10 141.47 L513.20 129.21 L513.30 141.25 L513.40 135.15 L513.50 141.06 L513.60 132.10 L513.70 141.29 L513.80 116.40 L513.90 141.84 L514.00 133.13 L514.10 141.50 L514.20 128.74 L514.30 141.48 L514.40 130.61 L514.50 141.48 L514.60 126.00 L514.70 141.08 L514.80 135.44 L514.90 141.63 L515.00 123.54 L515.10 141.80 L515.20 131.91 L515.30 141.42 L515.40 134.02 L515.50 141.78 L515.60 132.84 L515.70 140.96 L515.80 129.66 L515.90 141.01 L516.00 129.78 L516.10 141.24 L516.20 136.26 L516.30 141.45 L516.40 135.85 L516.50 139.34 L516.60 130.37 L516.70 139.52 L516.80 130.05 L516.90 139.73 L517.00 120.53 L517.10 139.02 L517.20 121.90 L517.30 138.36 L517.40 125.26 L517.50 137.98 L517.60 129.55 L517.70 138.58 L517.80 129.85 L517.90 137.81 L518.00 128.40 L518.10 137.66 L518.20 129.72 L518.30 138.16 L518.40 126.25 L518.50 138.39 L518.60 125.53 L518.70 137.49 L518.80 118.21 L518.90 137.87 L519.00 129.95 L519.10 137.95 L519.20 132.20 L519.30 137.83 L519.40 128.80 L519.50 138.31 L519.60 116.69 L519.70 138.15 L519.80 125.36 L519.90 138.23 L520.00 125.91 L520.10 137.58 L520.20 118.39 L520.30 138.33 L520.40 130.70 L520.50 137.61 L520.60 132.03 L520.70 138.21 L520.80 133.25 L520.90 138.48 L521.00 131.18 L521.10 137.63 L521.20 124.90 L521.30 138.49 L521.40 133.35 L521.50 138.31 L521.60 132.38 L521.70 137.89 L521.80 129.98 L521.90 138.11 L522.00 125.74 L522.10 138.57 L522.20 124.63 L522.30 138.25 L522.40 126.30 L522.50 138.78 L522.60 125.27 L522.70 137.89 L522.80 129.88 L522.90 138.54 L523.00 124.41 L523.10 138.09 L523.20 131.63 L523.30 137.86 L523.40 130.15 L523.50 138.58 L523.60 130.98 L523.70 138.61 L523.80 134.04 L523.90 137.97 L524.00 124.49 L524.10 138.23 L524.20 130.60 L524.30 138.17 L524.40 132.44 L524.50 138.49 L524.60 132.26 L524.70 138.28 L524.80 129.94 L524.90 138.27 L525.00 126.86 L525.10 138.86 L525.20 130.07 L525.30 138.38 L525.40 130.10 L525.50 138.15 L525.60 118.44 L525.70 138.46 L525.80 129.83 L525.90 138.57 L526.00 124.01 L526.10 138.04 L526.20 133.30 L526.30 138.72 L526.40 126.19 L526.50 138.81 L526.60 133.99 L526.70 138.69 L526.80 132.50 L526.90 138.62 L527.00 126.93 L527.10 139.03 L527.20 118.31 L527.30 138.35 L527.40 133.24 L527.50 138.49 L527.60 129.08 L527.70 138.13 L527.80 126.10 L527.90 138.58 L528.00 133.10 L528.10 138.34 L528.20 118.93 L528.30 138.11 L528.40 118.81 L528.50 138.94 L528.60 129.61 L528.70 138.97 L528.80 134.29 L528.90 138.51 L529.00 130.36 L529.10 139.15 L529.20 128.05 L529.30 138.65 L529.40 130.42 L529.50 138.94 L529.60 130.41 L529.70 138.53 L529.80 123.79 L529.90 138.38 L530.00 132.22 L530.10 138.24 L530.20 131.37 L530.30 138.78 L530.40 129.98 L530.50 138.21 L530.60 129.21 L530.70 138.34 L530.80 127.01 L530.90 138.86 L531.00 124.82 L531.10 138.98 L531.20 128.77 L531.30 138.66 L531.40 133.66 L531.50 139.25 L531.60 130.23 L531.70 139.13 L531.80 131.32 L531.90 138.90 L532.00 128.43 L532.10 139.32 L532.20 128.62 L532.30 138.41 L532.40 133.25 L532.50 138.86 L532.60 126.41 L532.70 139.00 L532.80 133.10 L532.90 139.19 L533.00 127.21 L533.10 138.93 L533.20 127.40 L533.30 138.62 L533.40 132.57 L533.50 138.66 L533.60 120.97 L533.70 139.02 L533.80 132.10 L533.90 138.47 L534.00 131.03 L534.10 138.75 L534.20 124.76 L534.30 139.38 L534.40 130.15 L534.50 139.26 L534.60 126.43 L534.70 138.63 L534.80 130.92 L534.90 139.32 L535.00 134.75 L535.10 139.46 L535.20 125.37 L535.30 139.34 L535.40 130.63 L535.50 138.45 L535.60 129.10 L535.70 139.15 L535.80 131.41 L535.90 138.57 L536.00 133.72 L536.10 138.89 L536.20 132.75 L536.30 138.99 L536.40 127.19 L536.50 139.06 L536.60 123.78 L536.70 138.66 L536.80 128.51 L536.90 139.53 L537.00 134.97 L537.10 138.89 L537.20 116.16 L537.30 139.43 L537.40 131.89 L537.50 138.62 L537.60 133.60 L537.70 138.99 L537.80 131.70 L537.90 139.27 L538.00 133.43 L538.10 138.59 L538.20 132.18 L538.30 139.56 L538.40 133.02 L538.50 138.60 L538.60 128.07 L538.70 138.96 L538.80 133.09 L538.90 139.05 L539.00 130.99 L539.10 139.64 L539.20 124.70 L539.30 138.63 L539.40 127.86 L539.50 139.23 L539.60 126.36 L539.70 139.21 L539.80 134.05 L539.90 138.69 L540.00 133.42 L540.10 139.69 L540.20 131.52 L540.30 139.01 L540.40 130.34 L540.50 139.13 L540.60 129.54 L540.70 139.04 L540.80 130.62 L540.90 139.23 L541.00 127.80 L541.10 138.80 L541.20 132.70 L541.30 139.57 L541.40 130.24 L541.50 139.59 L541.60 128.40 L541.70 139.49 L541.80 134.48 L541.90 139.68 L542.00 130.39 L542.10 139.55 L542.20 128.99 L542.30 139.51 L542.40 133.24 L542.50 139.11 L542.60 125.41 L542.70 138.88 L542.80 132.61 L542.90 139.53 L543.00 131.23 L543.10 139.85 L543.20 127.85 L543.30 138.95 L543.40 127.19 L543.50 139.02 L543.60 131.13 L543.70 139.90 L543.80 130.70 L543.90 139.78 L544.00 133.57 L544.10 139.72 L544.20 126.14 L544.30 139.81 L544.40 134.16 L544.50 139.48 L544.60 130.73 L544.70 139.66 L544.80 126.00 L544.90 139.64 L545.00 117.04 L545.10 139.02 L545.20 125.33 L545.30 139.55 L545.40 134.56 L545.50 139.03 L545.60 130.98 L545.70 139.25 L545.80 129.88 L545.90 139.27 L546.00 129.17 L546.10 139.33 L546.20 132.61 L546.30 139.04 L546.40 127.71 L546.50 139.05 L546.60 110.20 L546.70 139.23 L546.80 130.83 L546.90 139.50 L547.00 126.91 L547.10 139.77 L547.20 132.84 L547.30 139.85 L547.40 120.92 L547.50 139.84 L547.60 131.69 L547.70 139.37 L547.80 129.92 L547.90 139.05 L548.00 126.44 L548.10 140.08 L548.20 129.39 L548.30 139.03 L548.40 125.67 L548.50 139.57 L548.60 131.02 L548.70 139.36 L548.80 126.54 L548.90 139.37 L549.00 122.67 L549.10 139.63 L549.20 131.66 L549.30 139.18 L549.40 130.25 L549.50 139.99 L549.60 126.44 L549.70 140.04 L549.80 134.72 L549.90 140.04 L550.00 111.36 L550.10 139.46 L550.20 130.33 L550.30 139.85 L550.40 122.02 L550.50 140.16 L550.60 127.24 L550.70 140.10 L550.80 131.00 L550.90 139.55 L551.00 116.04 L551.10 139.80 L551.20 133.61 L551.30 139.41 L551.40 133.34 L551.50 139.40 L551.60 133.62 L551.70 140.07 L551.80 132.07 L551.90 140.22 L552.00 132.16 L552.10 139.28 L552.20 133.24 L552.30 140.15 L552.40 127.42 L552.50 140.02 L552.60 133.72 L552.70 140.25 L552.80 127.38 L552.90 139.79 L553.00 131.91 L553.10 140.11 L553.20 126.52 L553.30 140.16 L553.40 135.38 L553.50 139.40 L553.60 127.23 L553.70 140.13 L553.80 128.20 L553.90 139.86 L554.00 129.46 L554.10 139.93 L554.20 121.08 L554.30 140.00 L554.40 131.57 L554.50 139.58 L554.60 133.54 L554.70 139.44 L554.80 130.77 L554.90 139.52 L555.00 127.47 L555.10 139.70 L555.20 127.17 L555.30 139.26 L555.40 134.40 L555.50 139.87 L555.60 133.39 L555.70 139.57 L555.80 133.19 L555.90 139.74 L556.00 129.67 L556.10 139.35 L556.20 131.37 L556.30 139.28 L556.40 131.16 L556.50 140.23 L556.60 133.06 L556.70 139.39 L556.80 126.63 L556.90 140.30 L557.00 126.94 L557.10 139.31 L557.20 131.02 L557.30 140.27 L557.40 114.65 L557.50 139.98 L557.60 131.46 L557.70 140.27 L557.80 134.58 L557.90 139.62 L558.00 129.26 L558.10 139.76 L558.20 127.24 L558.30 140.26 L558.40 126.00 L558.50 139.40 L558.60 134.33 L558.70 140.17 L558.80 131.89 L558.90 139.36 L559.00 129.88 L559.10 140.07 L559.20 128.15 L559.30 139.45 L559.40 133.04 L559.50 140.37 L559.60 134.56 L559.70 139.90 L559.80 126.24 L559.90 139.52 L560.00 124.13 L560.10 139.88 L560.20 134.16 L560.30 140.35 L560.40 130.82 L560.50 140.20 L560.60 124.86 L560.70 140.49 L560.80 131.80 L560.90 140.35 L561.00 134.47 L561.10 139.72 L561.20 131.17 L561.30 140.20 L561.40 128.35 L561.50 139.72 L561.60 133.93 L561.70 140.31 L561.80 133.14 L561.90 139.80 L562.00 133.63 L562.10 140.10 L562.20 134.81 L562.30 140.39 L562.40 130.24 L562.50 139.74 L562.60 126.14 L562.70 140.34 L562.80 132.67 L562.90 139.87 L563.00 128.76 L563.10 139.51 L563.20 126.28 L563.30 140.02 L563.40 134.00 L563.50 139.71 L563.60 121.82 L563.70 139.83 L563.80 134.69 L563.90 139.99 L564.00 113.91 L564.10 140.54 L564.20 131.41 L564.30 140.52 L564.40 131.75 L564.50 140.48 L564.60 114.59 L564.70 140.09 L564.80 131.20 L564.90 140.19 L565.00 135.28 L565.10 139.56 L565.20 129.78 L565.30 139.69 L565.40 132.88 L565.50 140.48 L565.60 135.34 L565.70 140.47 L565.80 129.19 L565.90 140.55 L566.00 134.11 L566.10 139.63 L566.20 127.89 L566.30 140.61 L566.40 134.05 L566.50 140.06 L566.60 135.34 L566.70 140.48 L566.80 132.78 L566.90 139.93 L567.00 131.24 L567.10 139.82 L567.20 130.22 L567.30 140.27 L567.40 128.26 L567.50 139.71 L567.60 127.73 L567.70 139.68 L567.80 112.47 L567.90 140.48 L568.00 129.48 L568.10 140.62 L568.20 132.41 L568.30 140.70 L568.40 132.95 L568.50 140.70 L568.60 133.40 L568.70 140.62 L568.80 135.07 L568.90 140.43 L569.00 126.78 L569.10 140.36 L569.20 131.75 L569.30 139.96 L569.40 127.64 L569.50 140.73 L569.60 131.86 L569.70 140.22 L569.80 127.71 L569.90 139.87 L570.00 131.57 L570.10 140.75 L570.20 133.55 L570.30 139.86 L570.40 133.35 L570.50 139.96 L570.60 133.91 L570.70 140.23 L570.80 120.72 L570.90 139.88 L571.00 130.80 L571.10 140.55 L571.20 127.36 L571.30 140.18 L571.40 128.99 L571.50 140.51 L571.60 131.49 L571.70 140.36 L571.80 128.84 L571.90 140.20 L572.00 134.88 L572.10 140.25 L572.20 132.77 L572.30 139.93 L572.40 129.50 L572.50 140.45 L572.60 135.33 L572.70 140.46 L572.80 126.77 L572.90 139.78 L573.00 121.75 L573.10 140.58 L573.20 130.08 L573.30 140.79 L573.40 128.26 L573.50 140.78 L573.60 124.26 L573.70 139.82 L573.80 128.84 L573.90 139.78 L574.00 131.18 L574.10 140.45 L574.20 122.40 L574.30 139.97 L574.40 131.69 L574.50 140.73 L574.60 131.37 L574.70 139.83 L574.80 131.22 L574.90 140.73 L575.00 129.66 L575.10 140.40 L575.20 134.08 L575.30 139.95 L575.40 134.76 L575.50 140.49 L575.60 134.21 L575.70 140.18 L575.80 111.81 L575.90 140.88 L576.00 135.97 L576.10 139.99 L576.20 125.18 L576.30 139.97 L576.40 120.30 L576.50 140.43 L576.60 135.24 L576.70 140.23 L576.80 128.97 L576.90 140.77 L577.00 135.73 L577.10 140.30 L577.20 129.84 L577.30 140.14 L577.40 127.02 L577.50 140.55 L577.60 132.35 L577.70 140.51 L577.80 128.10 L577.90 140.47 L578.00 131.78 L578.10 140.87 L578.20 120.23 L578.30 140.09 L578.40 132.18 L578.50 140.92 L578.60 134.17 L578.70 140.46 L578.80 133.22 L578.90 140.27 L579.00 126.41 L579.10 140.71 L579.20 118.66 L579.30 140.04 L579.40 134.38 L579.50 140.73 L579.60 133.42 L579.70 140.90 L579.80 135.22 L579.90 140.86 L580.00 123.05 L580.10 140.80 L580.20 120.24 L580.30 140.29 L580.40 134.70 L580.50 140.75 L580.60 134.70 L580.70 140.30 L580.80 120.33 L580.90 140.26 L581.00 134.41 L581.10 140.77 L581.20 127.23 L581.30 140.03 L581.40 131.38 L581.50 140.85 L581.60 118.81 L581.70 139.97 L581.80 131.44 L581.90 140.34 L582.00 134.43 L582.10 140.04 L582.20 124.60 L582.30 140.49 L582.40 133.38 L582.50 140.22 L582.60 121.30 L582.70 140.73 L582.80 128.35 L582.90 140.04 L583.00 131.13 L583.10 140.82 L583.20 134.40 L583.30 140.11 L583.40 130.86 L583.50 140.16 L583.60 131.09 L583.70 140.46 L583.80 131.35 L583.90 140.27 L584.00 135.76 L584.10 140.37 L584.20 126.61 L584.30 140.45 L584.40 133.37 L584.50 140.21 L584.60 134.06 L584.70 141.06 L584.80 130.34 L584.90 140.31 L585.00 131.42 L585.10 140.66 L585.20 135.82 L585.30 140.54 L585.40 135.99 L585.50 140.49 L585.60 135.45 L585.70 140.75 L585.80 130.41 L585.90 140.78 L586.00 125.85 L586.10 140.58 L586.20 126.45 L586.30 140.51 L586.40 134.20 L586.50 140.63 L586.60 127.40 L586.70 140.47 L586.80 132.13 L586.90 140.79 L587.00 134.08 L587.10 140.29 L587.20 131.04 L587.30 140.10 L587.40 135.17 L587.50 140.36 L587.60 134.31 L587.70 141.06 L587.80 131.49 L587.90 141.03 L588.00 136.46 L588.10 140.56 L588.20 134.68 L588.30 141.10 L588.40 127.19 L588.50 140.53 L588.60 134.89 L588.70 140.32 L588.80 128.78 L588.90 141.00 L589.00 132.15 L589.10 141.05 L589.20 133.21 L589.30 140.14 L589.40 135.01 L589.50 140.76 L589.60 135.82 L589.70 140.88 L589.80 127.80 L589.90 141.07 L590.00 128.10 L590.10 140.39 L590.20 133.16 L590.30 140.51 L590.40 133.61 L590.50 140.65 L590.60 135.41 L590.70 140.93 L590.80 127.27 L590.90 140.21 L591.00 131.32 L591.10 140.58 L591.20 117.62 L591.30 140.22 L591.40 131.50 L591.50 140.86 L591.60 114.93 L591.70 141.00 L591.80 136.18 L591.90 140.35 L592.00 122.04 L592.10 140.74 L592.20 133.85 L592.30 141.01 L592.40 131.99 L592.50 140.20 L592.60 132.09 L592.70 141.06 L592.80 133.80 L592.90 140.17 L593.00 126.18 L593.10 140.45 L593.20 127.24 L593.30 140.17 L593.40 130.54 L593.50 140.91 L593.60 135.75 L593.70 140.48 L593.80 131.04 L593.90 140.27 L594.00 133.94 L594.10 140.21 L594.20 132.03 L594.30 140.71 L594.40 136.02 L594.50 140.17 L594.60 127.90 L594.70 140.34 L594.80 131.83 L594.90 140.66 L595.00 131.53 L595.10 140.66 L595.20 126.52 L595.30 141.02 L595.40 135.15 L595.50 141.01 L595.60 126.69 L595.70 140.61 L595.80 135.15 L595.90 140.53 L596.00 123.93 L596.10 141.10 L596.20 129.03 L596.30 140.78 L596.40 133.83 L596.50 140.55 L596.60 134.47 L596.70 141.19 L596.80 112.57 L596.90 140.78 L597.00 134.45 L597.10 140.51 L597.20 113.14 L597.30 141.05 L597.40 130.14 L597.50 141.00 L597.60 123.26 L597.70 141.23 L597.80 128.20 L597.90 140.86 L598.00 127.93 L598.10 140.69 L598.20 126.63 L598.30 141.27 L598.40 132.10 L598.50 140.95 L598.60 135.97 L598.70 140.35 L598.80 131.11 L598.90 140.47 L599.00 129.83 L599.10 140.40 L599.20 130.57 L599.30 140.26 L599.40 122.17 L599.50 140.27 L599.60 134.17 L599.70 140.94 L599.80 132.94 L599.90 140.27 L600.00 123.10 L600.10 140.66 L600.20 128.22 L600.30 140.57 L600.40 132.88 L600.50 140.70 L600.60 127.50 L600.70 141.15 L600.80 127.51 L600.90 140.52 L601.00 130.81 L601.10 140.77 L601.20 130.42 L601.30 140.38 L601.40 131.82 L601.50 141.12 L601.60 133.16 L601.70 141.21 L601.80 127.45 L601.90 140.90 L602.00 134.39 L602.10 140.89 L602.20 126.94 L602.30 140.42 L602.40 131.45 L602.50 141.01 L602.60 133.70 L602.70 140.33 L602.80 135.63 L602.90 141.19 L603.00 134.83 L603.10 140.63 L603.20 132.19 L603.30 140.28 L603.40 132.93 L603.50 140.66 L603.60 134.73 L603.70 140.56 L603.80 128.28 L603.90 140.30 L604.00 127.44 L604.10 140.72 L604.20 136.07 L604.30 140.40 L604.40 128.27 L604.50 141.15 L604.60 113.49 L604.70 140.61 L604.80 128.66 L604.90 140.54 L605.00 127.08 L605.10 140.94 L605.20 131.25 L605.30 141.22 L605.40 135.20 L605.50 140.91 L605.60 130.12 L605.70 141.21 L605.80 130.06 L605.90 141.27 L606.00 134.82 L606.10 141.38 L606.20 136.21 L606.30 141.24 L606.40 131.32 L606.50 141.19 L606.60 130.48 L606.70 140.89 L606.80 124.57 L606.90 140.42 L607.00 134.41 L607.10 141.37 L607.20 134.87 L607.30 141.16 L607.40 132.68 L607.50 141.06 L607.60 124.42 L607.70 140.62 L607.80 128.11 L607.90 140.86 L608.00 133.59 L608.10 140.76 L608.20 128.18 L608.30 140.84 L608.40 135.79 L608.50 141.26 L608.60 131.15 L608.70 140.92 L608.80 136.12 L608.90 140.70 L609.00 135.70 L609.10 141.27 L609.20 131.49 L609.30 140.36 L609.40 127.81 L609.50 140.61 L609.60 124.01 L609.70 140.82 L609.80 127.32 L609.90 140.98 L610.00 128.43 L610.10 140.92 L610.20 127.84 L610.30 140.87 L610.40 131.14 L610.50 141.15 L610.60 127.21 L610.70 140.93 L610.80 132.47 L610.90 140.85 L611.00 131.54 L611.10 140.90 L611.20 135.39 L611.30 140.64 L611.40 122.14 L611.50 140.40 L611.60 130.43 L611.70 140.85 L611.80 131.09 L611.90 140.69 L612.00 122.38 L612.10 141.28 L612.20 127.52 L612.30 141.20 L612.40 131.45 L612.50 141.15 L612.60 124.58 L612.70 141.16 L612.80 134.34 L612.90 140.96 L613.00 129.84 L613.10 140.64 L613.20 117.84 L613.30 140.51 L613.40 125.58 L613.50 141.43 L613.60 133.12 L613.70 141.13 L613.80 132.91 L613.90 140.94 L614.00 131.15 L614.10 140.49 L614.20 130.29 L614.30 141.47 L614.40 135.02 L614.50 141.12 L614.60 135.87 L614.70 140.49 L614.80 122.21 L614.90 140.53 L615.00 132.71 L615.10 140.46 L615.20 135.02 L615.30 141.26 L615.40 133.02 L615.50 140.58 L615.60 128.54 L615.70 141.11 L615.80 134.28 L615.90 140.68 L616.00 134.52 L616.10 141.41 L616.20 134.93 L616.30 141.27 L616.40 132.88 L616.50 141.41 L616.60 127.86 L616.70 140.92 L616.80 126.94 L616.90 140.96 L617.00 131.70 L617.10 141.18 L617.20 130.81 L617.30 141.21 L617.40 118.17 L617.50 140.93 L617.60 132.69 L617.70 141.33 L617.80 129.57 L617.90 141.19 L618.00 130.59 L618.10 141.06 L618.20 133.77 L618.30 141.15 L618.40 131.97 L618.50 140.74 L618.60 134.14 L618.70 141.07 L618.80 133.22 L618.90 140.86 L619.00 135.35 L619.10 141.02 L619.20 135.42 L619.30 140.91 L619.40 129.82 L619.50 140.69 L619.60 128.48 L619.70 140.68 L619.80 131.84 L619.90 140.82 L620.00 129.89 L620.10 141.01 L620.20 135.75 L620.30 141.22 L620.40 127.60 L620.50 141.00 L620.60 124.97 L620.70 141.54 L620.80 135.54 L620.90 141.30 L621.00 133.98 L621.10 141.43 L621.20 136.60 L621.30 140.48 L621.40 126.80 L621.50 140.72 L621.60 130.16 L621.70 141.00 L621.80 121.92 L621.90 141.11 L622.00 132.07 L622.10 140.95 L622.20 134.06 L622.30 141.19 L622.40 132.97 L622.50 140.88 L622.60 132.89 L622.70 141.44 L622.80 121.59 L622.90 140.52 L623.00 112.72 L623.10 141.45 L623.20 133.60 L623.30 140.69 L623.40 126.49 L623.50 140.54 L623.60 128.38 L623.70 141.06 L623.80 136.22 L623.90 141.28 L624.00 133.88 L624.10 140.59 L624.20 133.18 L624.30 140.75 L624.40 131.22 L624.50 141.44 L624.60 133.50 L624.70 140.98 L624.80 136.02 L624.90 141.16 L625.00 134.32 L625.10 140.94 L625.20 135.18 L625.30 141.03 L625.40 122.67 L625.50 140.83 L625.60 129.05 L625.70 141.29 L625.80 132.91 L625.90 140.65 L626.00 131.08 L626.10 141.12 L626.20 133.72 L626.30 140.82 L626.40 136.24 L626.50 140.76 L626.60 128.25 L626.70 140.54 L626.80 130.53 L626.90 141.17 L627.00 132.67 L627.10 140.78 L627.20 123.47 L627.30 140.69 L627.40 130.51 L627.50 140.68 L627.60 133.53 L627.70 141.23 L627.80 127.04 L627.90 141.60 L628.00 133.86 L628.10 140.95 L628.20 133.01 L628.30 141.33 L628.40 136.72 L628.50 140.90 L628.60 134.17 L628.70 141.56 L628.80 135.92 L628.90 140.99 L629.00 134.44 L629.10 141.10 L629.20 132.82 L629.30 141.22 L629.40 130.58 L629.50 140.72 L629.60 127.48 L629.70 141.51 L629.80 132.75 L629.90 140.85 L630.00 132.61 L630.10 140.84 L630.20 132.36 L630.30 140.56 L630.40 132.87 L630.50 140.54 L630.60 132.36 L630.70 141.04 L630.80 131.57 L630.90 141.32 L631.00 133.67 L631.10 141.40 L631.20 135.50 L631.30 140.90 L631.40 128.35 L631.50 140.99 L631.60 122.89 L631.70 141.59 L631.80 134.37 L631.90 141.04 L632.00 131.32 L632.10 141.06 L632.20 127.76 L632.30 141.53 L632.40 136.16 L632.50 140.79 L632.60 130.93 L632.70 141.06 L632.80 135.06 L632.90 140.55 L633.00 132.76 L633.10 141.16 L633.20 136.54 L633.30 141.39 L633.40 133.39 L633.50 141.00 L633.60 128.22 L633.70 140.94 L633.80 131.75 L633.90 139.66 L634.00 134.35 L634.10 139.73 L634.20 134.60 L634.30 139.04 L634.40 130.45 L634.50 138.36 L634.60 125.03 L634.70 138.14 L634.80 125.78 L634.90 138.68 L635.00 122.94 L635.10 138.34 L635.20 127.69 L635.30 137.55 L635.40 126.39 L635.50 137.80 L635.60 124.48 L635.70 137.99 L635.80 130.95 L635.90 138.26 L636.00 129.63 L636.10 138.19 L636.20 126.62 L636.30 137.55 L636.40 124.35 L636.50 138.22 L636.60 125.06 L636.70 138.00 L636.80 124.32 L636.90 137.61 L637.00 131.91 L637.10 137.81 L637.20 125.05 L637.30 138.56 L637.40 123.71 L637.50 138.55 L637.60 123.64 L637.70 138.04 L637.80 122.98 L637.90 138.58 L638.00 130.06 L638.10 138.59 L638.20 132.84 L638.30 138.08 L638.40 132.38 L638.50 138.06 L638.60 123.58 L638.70 138.58 L638.80 131.40 L638.90 138.64 L639.00 129.52 L639.10 137.81 L639.20 127.20 L639.30 138.59 L639.40 127.42 L639.50 138.38 L639.60 127.14 L639.70 138.44 L639.80 125.75 L639.90 138.32 L640.00 122.40 L640.10 138.82 L640.20 125.42 L640.30 137.85 L640.40 120.97 L640.50 137.99 L640.60 131.34 L640.70 137.86 L640.80 126.63 L640.90 138.75 L641.00 115.61 L641.10 138.37 L641.20 128.82 L641.30 138.25 L641.40 128.03 L641.50 138.42 L641.60 127.07 L641.70 138.02 L641.80 127.04 L641.90 138.93 L642.00 126.77 L642.10 138.21 L642.20 120.97 L642.30 138.52 L642.40 126.70 L642.50 138.89 L642.60 127.35 L642.70 138.66 L642.80 124.68 L642.90 138.88 L643.00 123.82 L643.10 138.26 L643.20 130.20 L643.30 138.70 L643.40 129.78 L643.50 138.11 L643.60 130.60 L643.70 138.23 L643.80 122.76 L643.90 138.30 L644.00 120.23 L644.10 138.89 L644.20 125.46 L644.30 138.83 L644.40 127.45 L644.50 138.98 L644.60 133.11 L644.70 139.10 L644.80 108.65 L644.90 138.06 L645.00 127.81 L645.10 138.79 L645.20 114.78 L645.30 138.73 L645.40 126.29 L645.50 138.50 L645.60 126.48 L645.70 138.78 L645.80 119.77 L645.90 139.05 L646.00 127.38 L646.10 138.16 L646.20 129.04 L646.30 138.74 L646.40 129.07 L646.50 138.46 L646.60 132.28 L646.70 138.90 L646.80 132.17 L646.90 139.11 L647.00 128.70 L647.10 138.20 L647.20 123.72 L647.30 138.93 L647.40 132.38 L647.50 138.76 L647.60 121.25 L647.70 138.62 L647.80 126.29 L647.90 138.90 L648.00 132.41 L648.10 138.72 L648.20 132.74 L648.30 138.68 L648.40 128.29 L648.50 138.28 L648.60 129.11 L648.70 138.85 L648.80 124.87 L648.90 139.30 L649.00 130.72 L649.10 138.33 L649.20 124.56 L649.30 139.32 L649.40 130.55 L649.50 138.57 L649.60 127.41 L649.70 138.53 L649.80 130.58 L649.90 138.59 L650.00 123.61 L650.10 138.59 L650.20 121.66 L650.30 138.38 L650.40 129.37 L650.50 139.17 L650.60 128.24 L650.70 138.76 L650.80 124.36 L650.90 139.19 L651.00 128.80 L651.10 138.54 L651.20 130.12 L651.30 139.07 L651.40 125.76 L651.50 138.57 L651.60 125.34 L651.70 138.38 L651.80 130.55 L651.90 139.20 L652.00 104.14 L652.10 139.03 L652.20 128.31 L652.30 139.29 L652.40 114.82 L652.50 139.52 L652.60 125.04 L652.70 138.69 L652.80 122.64 L652.90 139.20 L653.00 116.73 L653.10 138.69 L653.20 105.63 L653.30 139.56 L653.40 122.85 L653.50 138.71 L653.60 131.76 L653.70 139.01 L653.80 128.00 L653.90 139.41 L654.00 132.36 L654.10 138.65 L654.20 131.49 L654.30 138.86 L654.40 128.66 L654.50 139.13 L654.60 127.61 L654.70 139.23 L654.80 128.28 L654.90 139.09 L655.00 127.97 L655.10 139.11 L655.20 132.48 L655.30 138.68 L655.40 133.04 L655.50 139.52 L655.60 116.68 L655.70 139.11 L655.80 131.86 L655.90 138.74 L656.00 131.36 L656.10 139.15 L656.20 130.46 L656.30 139.15 L656.40 130.13 L656.50 139.61 L656.60 125.88 L656.70 138.89 L656.80 127.39 L656.90 139.57 L657.00 132.89 L657.10 139.50 L657.20 132.30 L657.30 139.42 L657.40 131.52 L657.50 139.67 L657.60 115.34 L657.70 139.28 L657.80 130.19 L657.90 139.13 L658.00 114.53 L658.10 139.59 L658.20 127.79 L658.30 139.55 L658.40 123.96 L658.50 139.27 L658.60 130.84 L658.70 139.76 L658.80 122.01 L658.90 139.43 L659.00 129.55 L659.10 139.37 L659.20 132.23 L659.30 138.83 L659.40 130.73 L659.50 139.21 L659.60 129.49 L659.70 138.77 L659.80 131.54 L659.90 138.96 L660.00 122.23 L660.10 139.29 L660.20 128.66 L660.30 139.61 L660.40 123.10 L660.50 138.87 L660.60 127.15 L660.70 139.86 L660.80 128.98 L660.90 139.81 L661.00 128.93 L661.10 139.37 L661.20 120.16 L661.30 139.90 L661.40 133.23 L661.50 139.53 L661.60 115.05 L661.70 139.59 L661.80 131.84 L661.90 139.52 L662.00 126.14 L662.10 139.88 L662.20 129.86 L662.30 139.54 L662.40 132.58 L662.50 139.46 L662.60 129.79 L662.70 139.33 L662.80 125.52 L662.90 139.54 L663.00 126.10 L663.10 139.48 L663.20 133.08 L663.30 139.25 L663.40 132.59 L663.50 139.67 L663.60 133.20" fill="none" stroke="#0c0a0a" stroke-width="0.55" stroke-linejoin="bevel"/>
<polygon points="501.7,136.1 503.7,136.1 505.7,136.1 507.7,136.1 509.7,136.1 511.7,136.1 513.7,136.1 515.7,136.1 517.7,132.9 519.7,132.7 521.7,132.9 523.7,133.0 525.7,133.1 527.7,133.2 529.7,133.3 531.7,133.4 533.7,133.5 535.7,133.6 537.7,133.7 539.7,133.8 541.7,133.9 543.7,134.0 545.7,134.1 547.7,134.2 549.7,134.2 551.7,134.3 553.7,134.4 555.7,134.5 557.7,134.5 559.7,134.6 561.7,134.6 563.7,134.7 565.7,134.8 567.7,134.8 569.7,134.9 571.7,134.9 573.7,135.0 575.7,135.0 577.7,135.0 579.7,135.1 581.7,135.1 583.7,135.2 585.7,135.2 587.7,135.2 589.7,135.3 591.7,135.3 593.7,135.3 595.7,135.4 597.7,135.4 599.7,135.4 601.7,135.4 603.7,135.5 605.7,135.5 607.7,135.5 609.7,135.5 611.7,135.6 613.7,135.6 615.7,135.6 617.7,135.6 619.7,135.6 621.7,135.7 623.7,135.7 625.7,135.7 627.7,135.7 629.7,135.7 631.7,135.7 633.7,135.8 635.7,132.6 637.7,132.8 639.7,132.9 641.7,133.0 643.7,133.1 645.7,133.3 647.7,133.4 649.7,133.5 651.7,133.6 653.7,133.7 655.7,133.8 657.7,133.9 659.7,134.0 661.7,134.0 663.6,134.1 663.6,139.6 661.7,139.5 659.7,139.5 657.7,139.4 655.7,139.3 653.7,139.2 651.7,139.1 649.7,139.0 647.7,138.9 645.7,138.8 643.7,138.6 641.7,138.5 639.7,138.4 637.7,138.3 635.7,138.1 633.7,141.3 631.7,141.2 629.7,141.2 627.7,141.2 625.7,141.2 623.7,141.2 621.7,141.2 619.7,141.1 617.7,141.1 615.7,141.1 613.7,141.1 611.7,141.1 609.7,141.0 607.7,141.0 605.7,141.0 603.7,141.0 601.7,140.9 599.7,140.9 597.7,140.9 595.7,140.9 593.7,140.8 591.7,140.8 589.7,140.8 587.7,140.7 585.7,140.7 583.7,140.7 581.7,140.6 579.7,140.6 577.7,140.5 575.7,140.5 573.7,140.5 571.7,140.4 569.7,140.4 567.7,140.3 565.7,140.3 563.7,140.2 561.7,140.1 559.7,140.1 557.7,140.0 555.7,140.0 553.7,139.9 551.7,139.8 549.7,139.7 547.7,139.7 545.7,139.6 543.7,139.5 541.7,139.4 539.7,139.3 537.7,139.2 535.7,139.1 533.7,139.0 531.7,138.9 529.7,138.8 527.7,138.7 525.7,138.6 523.7,138.5 521.7,138.4 519.7,138.2 517.7,138.4 515.7,141.6 513.7,141.6 511.7,141.6 509.7,141.6 507.7,141.6 505.7,141.6 503.7,141.6 501.7,141.6" fill="#0c0a0a"/>
<line x1="513.70" y1="18.70" x2="513.70" y2="136.00" stroke="#2a2626" stroke-width="0.7" />
<line x1="518.30" y1="19.60" x2="518.30" y2="136.00" stroke="#2a2626" stroke-width="0.6" />
<line x1="524.30" y1="21.60" x2="524.30" y2="136.00" stroke="#2a2626" stroke-width="0.6" />
<line x1="528.30" y1="22.10" x2="528.30" y2="136.00" stroke="#2a2626" stroke-width="0.6" />
<line x1="530.30" y1="22.50" x2="530.30" y2="136.00" stroke="#2a2626" stroke-width="0.6" />
<line x1="533.50" y1="21.20" x2="533.50" y2="136.00" stroke="#2a2626" stroke-width="0.6" />
<line x1="543.60" y1="25.40" x2="543.60" y2="136.00" stroke="#2a2626" stroke-width="0.6" />
<line x1="545.50" y1="23.50" x2="545.50" y2="136.00" stroke="#2a2626" stroke-width="0.8" />
<line x1="611.60" y1="27.30" x2="611.60" y2="136.00" stroke="#2a2626" stroke-width="0.6" />
<line x1="634.70" y1="30.20" x2="634.70" y2="136.00" stroke="#2a2626" stroke-width="0.8" />
<line x1="636.60" y1="26.40" x2="636.60" y2="136.00" stroke="#2a2626" stroke-width="1.2" />
<line x1="641.50" y1="29.30" x2="641.50" y2="136.00" stroke="#2a2626" stroke-width="0.6" />
<line x1="653.40" y1="30.80" x2="653.40" y2="136.00" stroke="#2a2626" stroke-width="0.6" />
<line x1="657.30" y1="29.80" x2="657.30" y2="136.00" stroke="#2a2626" stroke-width="0.7" />
<line x1="658.80" y1="31.60" x2="658.80" y2="136.00" stroke="#2a2626" stroke-width="0.7" />
<line x1="567.30" y1="27.00" x2="567.30" y2="70.70" stroke="#1a1718" stroke-width="2.0" />
<text transform="translate(580.5 48.3) rotate(-90)" font-size="10.4" textLength="32.3" lengthAdjust="spacingAndGlyphs" text-anchor="middle" fill="#1a1718" stroke="#1a1718" stroke-width="0.28">20 mV</text>
<line x1="568.20" y1="82.80" x2="602.00" y2="82.80" stroke="#1a1718" stroke-width="2.0" />
<text x="575.4" y="96.2" font-size="10.2" textLength="18.5" lengthAdjust="spacingAndGlyphs" fill="#1a1718" stroke="#1a1718" stroke-width="0.28" >40 s</text>
<rect x="514.80" y="148.50" width="4.30" height="13.70" fill="#3f9fd6"/>
<rect x="632.90" y="148.50" width="4.30" height="13.70" fill="#3f9fd6"/>
<text x="516.2" y="176.8" font-size="10.4" textLength="113.3" lengthAdjust="spacingAndGlyphs" fill="#1a1718" stroke="#1a1718" stroke-width="0.28" >Light (473nm, 20 Hz, 3s)</text>
<text x="0.8" y="211.0" font-size="14" fill="#1a1718" stroke="#1a1718" stroke-width="0.28" >e</text>
<line x1="54.35" y1="339.80" x2="54.35" y2="349.50" stroke="#1a1718" stroke-width="1.0" />
<line x1="51.65" y1="349.50" x2="57.05" y2="349.50" stroke="#1a1718" stroke-width="1.0" />
<rect x="42.70" y="335.50" width="23.30" height="4.30" fill="#fff" stroke="#1a1718" stroke-width="1.0"/>
<line x1="78.75" y1="322.80" x2="78.75" y2="310.50" stroke="#1a1718" stroke-width="1.0" />
<line x1="76.05" y1="310.50" x2="81.45" y2="310.50" stroke="#1a1718" stroke-width="1.0" />
<rect x="66.50" y="322.80" width="24.50" height="12.70" fill="#141112"/>
<line x1="114.55" y1="330.50" x2="114.55" y2="317.20" stroke="#1a1718" stroke-width="1.0" />
<line x1="111.85" y1="317.20" x2="117.25" y2="317.20" stroke="#1a1718" stroke-width="1.0" />
<rect x="102.90" y="330.50" width="23.30" height="5.00" fill="#fff" stroke="#1a1718" stroke-width="1.0"/>
<line x1="139.10" y1="275.90" x2="139.10" y2="261.70" stroke="#1a1718" stroke-width="1.0" />
<line x1="136.40" y1="261.70" x2="141.80" y2="261.70" stroke="#1a1718" stroke-width="1.0" />
<rect x="126.70" y="275.90" width="24.80" height="59.60" fill="#141112"/>
<line x1="174.80" y1="331.40" x2="174.80" y2="318.70" stroke="#1a1718" stroke-width="1.0" />
<line x1="172.10" y1="318.70" x2="177.50" y2="318.70" stroke="#1a1718" stroke-width="1.0" />
<rect x="163.30" y="331.40" width="23.00" height="4.10" fill="#fff" stroke="#1a1718" stroke-width="1.0"/>
<line x1="199.25" y1="327.00" x2="199.25" y2="315.50" stroke="#1a1718" stroke-width="1.0" />
<line x1="196.55" y1="315.50" x2="201.95" y2="315.50" stroke="#1a1718" stroke-width="1.0" />
<rect x="186.80" y="327.00" width="24.90" height="8.50" fill="#141112"/>
<line x1="37.50" y1="214.65" x2="37.50" y2="396.25" stroke="#1a1718" stroke-width="1.6" />
<line x1="32.00" y1="215.40" x2="37.50" y2="215.40" stroke="#1a1718" stroke-width="1.5" />
<line x1="33.90" y1="245.40" x2="37.50" y2="245.40" stroke="#1a1718" stroke-width="1.2" />
<line x1="32.00" y1="275.40" x2="37.50" y2="275.40" stroke="#1a1718" stroke-width="1.5" />
<line x1="33.90" y1="305.40" x2="37.50" y2="305.40" stroke="#1a1718" stroke-width="1.2" />
<line x1="32.00" y1="335.50" x2="37.50" y2="335.50" stroke="#1a1718" stroke-width="1.5" />
<line x1="33.90" y1="365.50" x2="37.50" y2="365.50" stroke="#1a1718" stroke-width="1.2" />
<line x1="32.00" y1="395.50" x2="37.50" y2="395.50" stroke="#1a1718" stroke-width="1.5" />
<line x1="32.00" y1="335.50" x2="218.00" y2="335.50" stroke="#1a1718" stroke-width="1.8" />
<text x="30.3" y="219.5" font-size="10.3" textLength="17.0" lengthAdjust="spacingAndGlyphs" text-anchor="end" fill="#1a1718" stroke="#1a1718" stroke-width="0.28" >200</text>
<text x="30.3" y="279.5" font-size="10.3" textLength="17.0" lengthAdjust="spacingAndGlyphs" text-anchor="end" fill="#1a1718" stroke="#1a1718" stroke-width="0.28" >100</text>
<text x="29.8" y="339.0" font-size="10.3" textLength="5.8" lengthAdjust="spacingAndGlyphs" text-anchor="end" fill="#1a1718" stroke="#1a1718" stroke-width="0.28" >0</text>
<text x="29.9" y="400.0" font-size="10.3" textLength="19.4" lengthAdjust="spacingAndGlyphs" text-anchor="end" fill="#1a1718" stroke="#1a1718" stroke-width="0.28" >-100</text>
<text transform="translate(10.1 307.8) rotate(-90)" font-size="10.4" textLength="47.0" lengthAdjust="spacingAndGlyphs" text-anchor="middle" fill="#1a1718" stroke="#1a1718" stroke-width="0.28">CPP score</text>
<rect x="59.50" y="211.80" width="15.80" height="6.70" fill="#fff" stroke="#1a1718" stroke-width="1.0"/>
<rect x="58.90" y="227.90" width="17.00" height="7.30" fill="#141112"/>
<text x="82.2" y="218.9" font-size="10.4" textLength="36.4" lengthAdjust="spacingAndGlyphs" fill="#1a1718" stroke="#1a1718" stroke-width="0.28" >Pre-test</text>
<text x="82.2" y="234.8" font-size="10.4" textLength="41.7" lengthAdjust="spacingAndGlyphs" fill="#1a1718" stroke="#1a1718" stroke-width="0.28" >Post-test</text>
<text x="139.3" y="263.9" font-size="17.5" text-anchor="middle" fill="#1a1718" stroke="#1a1718" stroke-width="0" >*</text>
<text x="50.8" y="368.5" font-size="10.4" textLength="41.7" lengthAdjust="spacingAndGlyphs" fill="#1a1718" stroke="#1a1718" stroke-width="0.28" >mCherry</text>
<text x="117.3" y="368.5" font-size="10.4" textLength="25.2" lengthAdjust="spacingAndGlyphs" fill="#1a1718" stroke="#1a1718" stroke-width="0.28" >ChR2</text>
<text x="175.4" y="368.5" font-size="10.4" textLength="25.2" lengthAdjust="spacingAndGlyphs" fill="#1a1718" stroke="#1a1718" stroke-width="0.28" >ChR2</text>
<line x1="47.50" y1="380.00" x2="144.80" y2="380.00" stroke="#1a1718" stroke-width="1.6" />
<line x1="161.60" y1="380.00" x2="213.00" y2="380.00" stroke="#1a1718" stroke-width="1.6" />
<text x="40.0" y="394.7" font-size="10.4" textLength="110.9" lengthAdjust="spacingAndGlyphs" fill="#1a1718" stroke="#1a1718" stroke-width="0.28" >Morhpine conditioning</text>
<text x="171.0" y="396.0" font-size="10.4" textLength="39.3" lengthAdjust="spacingAndGlyphs" fill="#1a1718" stroke="#1a1718" stroke-width="0.28" >Without</text>
<text x="134.8" y="410.4" font-size="10.4" textLength="110.1" lengthAdjust="spacingAndGlyphs" fill="#1a1718" stroke="#1a1718" stroke-width="0.28" >Morhpine conditioning</text>
<text x="263.4" y="210.4" font-size="14" fill="#1a1718" stroke="#1a1718" stroke-width="0.28" >f</text>
<line x1="313.45" y1="350.00" x2="313.45" y2="360.00" stroke="#1a1718" stroke-width="1.0" />
<line x1="310.75" y1="360.00" x2="316.15" y2="360.00" stroke="#1a1718" stroke-width="1.0" />
<rect x="301.80" y="335.50" width="23.30" height="14.50" fill="#fff" stroke="#1a1718" stroke-width="1.0"/>
<line x1="337.75" y1="280.00" x2="337.75" y2="266.30" stroke="#1a1718" stroke-width="1.0" />
<line x1="335.05" y1="266.30" x2="340.45" y2="266.30" stroke="#1a1718" stroke-width="1.0" />
<rect x="325.60" y="280.00" width="24.30" height="55.50" fill="#141112"/>
<line x1="373.50" y1="344.90" x2="373.50" y2="353.00" stroke="#1a1718" stroke-width="1.0" />
<line x1="370.80" y1="353.00" x2="376.20" y2="353.00" stroke="#1a1718" stroke-width="1.0" />
<rect x="361.80" y="335.50" width="23.40" height="9.40" fill="#fff" stroke="#1a1718" stroke-width="1.0"/>
<line x1="397.85" y1="325.90" x2="397.85" y2="307.20" stroke="#1a1718" stroke-width="1.0" />
<line x1="395.15" y1="307.20" x2="400.55" y2="307.20" stroke="#1a1718" stroke-width="1.0" />
<rect x="385.70" y="325.90" width="24.30" height="9.60" fill="#141112"/>
<line x1="433.60" y1="346.40" x2="433.60" y2="355.10" stroke="#1a1718" stroke-width="1.0" />
<line x1="430.90" y1="355.10" x2="436.30" y2="355.10" stroke="#1a1718" stroke-width="1.0" />
<rect x="422.10" y="335.50" width="23.00" height="10.90" fill="#fff" stroke="#1a1718" stroke-width="1.0"/>
<line x1="458.05" y1="273.00" x2="458.05" y2="258.30" stroke="#1a1718" stroke-width="1.0" />
<line x1="455.35" y1="258.30" x2="460.75" y2="258.30" stroke="#1a1718" stroke-width="1.0" />
<rect x="445.60" y="273.00" width="24.90" height="62.50" fill="#141112"/>
<line x1="297.30" y1="214.65" x2="297.30" y2="396.25" stroke="#1a1718" stroke-width="1.6" />
<line x1="291.80" y1="215.40" x2="297.30" y2="215.40" stroke="#1a1718" stroke-width="1.5" />
<line x1="293.70" y1="245.40" x2="297.30" y2="245.40" stroke="#1a1718" stroke-width="1.2" />
<line x1="291.80" y1="275.40" x2="297.30" y2="275.40" stroke="#1a1718" stroke-width="1.5" />
<line x1="293.70" y1="305.40" x2="297.30" y2="305.40" stroke="#1a1718" stroke-width="1.2" />
<line x1="291.80" y1="335.50" x2="297.30" y2="335.50" stroke="#1a1718" stroke-width="1.5" />
<line x1="293.70" y1="365.50" x2="297.30" y2="365.50" stroke="#1a1718" stroke-width="1.2" />
<line x1="291.80" y1="395.50" x2="297.30" y2="395.50" stroke="#1a1718" stroke-width="1.5" />
<line x1="291.80" y1="335.50" x2="478.00" y2="335.50" stroke="#1a1718" stroke-width="1.8" />
<text x="290.2" y="219.5" font-size="10.3" textLength="16.6" lengthAdjust="spacingAndGlyphs" text-anchor="end" fill="#1a1718" stroke="#1a1718" stroke-width="0.28" >200</text>
<text x="290.2" y="279.5" font-size="10.3" textLength="16.6" lengthAdjust="spacingAndGlyphs" text-anchor="end" fill="#1a1718" stroke="#1a1718" stroke-width="0.28" >100</text>
<text x="290.1" y="339.0" font-size="10.3" textLength="6.0" lengthAdjust="spacingAndGlyphs" text-anchor="end" fill="#1a1718" stroke="#1a1718" stroke-width="0.28" >0</text>
<text x="290.2" y="400.0" font-size="10.3" textLength="19.2" lengthAdjust="spacingAndGlyphs" text-anchor="end" fill="#1a1718" stroke="#1a1718" stroke-width="0.28" >-100</text>
<text transform="translate(272.6 308.4) rotate(-90)" font-size="10.4" textLength="46.5" lengthAdjust="spacingAndGlyphs" text-anchor="middle" fill="#1a1718" stroke="#1a1718" stroke-width="0.28">CPP score</text>
<rect x="319.60" y="211.60" width="15.70" height="6.70" fill="#fff" stroke="#1a1718" stroke-width="1.0"/>
<rect x="319.10" y="227.80" width="16.70" height="7.50" fill="#141112"/>
<text x="342.3" y="218.7" font-size="10.4" textLength="36.4" lengthAdjust="spacingAndGlyphs" fill="#1a1718" stroke="#1a1718" stroke-width="0.28" >Pre-test</text>
<text x="342.3" y="234.9" font-size="10.4" textLength="41.5" lengthAdjust="spacingAndGlyphs" fill="#1a1718" stroke="#1a1718" stroke-width="0.28" >Post-test</text>
<text x="337.5" y="268.6" font-size="17.5" text-anchor="middle" fill="#1a1718" stroke="#1a1718" stroke-width="0" >*</text>
<text x="458.2" y="259.8" font-size="17.5" text-anchor="middle" fill="#1a1718" stroke="#1a1718" stroke-width="0" >*</text>
<text x="306.3" y="376.3" font-size="10.4" textLength="42.0" lengthAdjust="spacingAndGlyphs" fill="#1a1718" stroke="#1a1718" stroke-width="0.28" >mCherry</text>
<text x="363.4" y="376.3" font-size="10.4" textLength="48.4" lengthAdjust="spacingAndGlyphs" fill="#1a1718" stroke="#1a1718" stroke-width="0.28" >eNpHR3.0</text>
<text x="425.9" y="376.3" font-size="10.4" textLength="48.3" lengthAdjust="spacingAndGlyphs" fill="#1a1718" stroke="#1a1718" stroke-width="0.28" >eNpHR3.0</text>
<line x1="308.70" y1="387.70" x2="405.00" y2="387.70" stroke="#1a1718" stroke-width="1.6" />
<line x1="416.80" y1="387.70" x2="481.60" y2="387.70" stroke="#1a1718" stroke-width="1.6" />
<text x="346.6" y="403.6" font-size="10.4" textLength="15.8" lengthAdjust="spacingAndGlyphs" fill="#1a1718" stroke="#1a1718" stroke-width="0.28" >CCI</text>
<text x="437.0" y="402.8" font-size="10.4" textLength="26.8" lengthAdjust="spacingAndGlyphs" fill="#1a1718" stroke="#1a1718" stroke-width="0.28" >Sham</text>
<text x="501.2" y="210.4" font-size="14" fill="#1a1718" stroke="#1a1718" stroke-width="0.28" >g</text>
<line x1="533.00" y1="231.60" x2="533.00" y2="358.30" stroke="#1a1718" stroke-width="1.6" />
<line x1="533.00" y1="232.30" x2="537.20" y2="232.30" stroke="#1a1718" stroke-width="1.4" />
<line x1="533.00" y1="274.10" x2="537.20" y2="274.10" stroke="#1a1718" stroke-width="1.4" />
<line x1="533.00" y1="315.80" x2="537.20" y2="315.80" stroke="#1a1718" stroke-width="1.4" />
<line x1="533.00" y1="357.60" x2="537.20" y2="357.60" stroke="#1a1718" stroke-width="1.4" />
<text x="528.8" y="235.9" font-size="10.3" textLength="12.9" lengthAdjust="spacingAndGlyphs" text-anchor="end" fill="#1a1718" stroke="#1a1718" stroke-width="0.28" >0.6</text>
<text x="528.8" y="277.7" font-size="10.3" textLength="12.9" lengthAdjust="spacingAndGlyphs" text-anchor="end" fill="#1a1718" stroke="#1a1718" stroke-width="0.28" >0.4</text>
<text x="528.8" y="319.4" font-size="10.3" textLength="12.9" lengthAdjust="spacingAndGlyphs" text-anchor="end" fill="#1a1718" stroke="#1a1718" stroke-width="0.28" >0.2</text>
<text x="527.8" y="361.1" font-size="10.3" textLength="5.9" lengthAdjust="spacingAndGlyphs" text-anchor="end" fill="#1a1718" stroke="#1a1718" stroke-width="0.28" >0</text>
<text transform="translate(508.6 296.5) rotate(-90)" font-size="10.4" textLength="61.5" lengthAdjust="spacingAndGlyphs" text-anchor="middle" fill="#1a1718" stroke="#1a1718" stroke-width="0.28">Threshold (s)</text>
<line x1="568.50" y1="365.40" x2="678.50" y2="365.40" stroke="#1a1718" stroke-width="1.6" />
<line x1="568.50" y1="361.30" x2="568.50" y2="365.60" stroke="#1a1718" stroke-width="1.4" />
<line x1="582.25" y1="361.30" x2="582.25" y2="365.60" stroke="#1a1718" stroke-width="1.4" />
<line x1="596.00" y1="361.30" x2="596.00" y2="365.60" stroke="#1a1718" stroke-width="1.4" />
<line x1="609.75" y1="361.30" x2="609.75" y2="365.60" stroke="#1a1718" stroke-width="1.4" />
<line x1="623.50" y1="361.30" x2="623.50" y2="365.60" stroke="#1a1718" stroke-width="1.4" />
<line x1="637.25" y1="361.30" x2="637.25" y2="365.60" stroke="#1a1718" stroke-width="1.4" />
<line x1="651.00" y1="361.30" x2="651.00" y2="365.60" stroke="#1a1718" stroke-width="1.4" />
<line x1="664.75" y1="361.30" x2="664.75" y2="365.60" stroke="#1a1718" stroke-width="1.4" />
<line x1="678.50" y1="361.30" x2="678.50" y2="365.60" stroke="#1a1718" stroke-width="1.4" />
<text x="569.1" y="379.4" font-size="10.3" textLength="15.1" lengthAdjust="spacingAndGlyphs" text-anchor="middle" fill="#1a1718" stroke="#1a1718" stroke-width="0.28" >-10</text>
<text x="596.1" y="379.4" font-size="10.3" textLength="5.8" lengthAdjust="spacingAndGlyphs" text-anchor="middle" fill="#1a1718" stroke="#1a1718" stroke-width="0.28" >0</text>
<text x="623.3" y="379.4" font-size="10.3" textLength="11.3" lengthAdjust="spacingAndGlyphs" text-anchor="middle" fill="#1a1718" stroke="#1a1718" stroke-width="0.28" >20</text>
<text x="650.3" y="379.4" font-size="10.3" textLength="11.3" lengthAdjust="spacingAndGlyphs" text-anchor="middle" fill="#1a1718" stroke="#1a1718" stroke-width="0.28" >40</text>
<text x="677.6" y="379.4" font-size="10.3" textLength="11.3" lengthAdjust="spacingAndGlyphs" text-anchor="middle" fill="#1a1718" stroke="#1a1718" stroke-width="0.28" >60</text>
<text x="597.7" y="394.0" font-size="10.4" textLength="51.1" lengthAdjust="spacingAndGlyphs" fill="#1a1718" stroke="#1a1718" stroke-width="0.28" >Time (min)</text>
<line x1="552.20" y1="272.00" x2="558.10" y2="293.30" stroke="#1a1718" stroke-width="1.1" />
<line x1="559.80" y1="304.00" x2="566.20" y2="326.80" stroke="#1a1718" stroke-width="1.1" />
<line x1="554.30" y1="303.50" x2="560.80" y2="294.50" stroke="#1a1718" stroke-width="1.25" />
<line x1="556.20" y1="304.90" x2="562.50" y2="296.30" stroke="#1a1718" stroke-width="1.25" />
<path d="M566.2 326.8 L580.5 324.9 L594.7 320.1 L608.5 321 L622.6 309 L636.8 322 L650.8 314.3 L665 319.9 L679.5 317.7" fill="none" stroke="#1a1718" stroke-width="1.1"/>
<line x1="552.20" y1="260.00" x2="552.20" y2="284.20" stroke="#1a1718" stroke-width="0.9" />
<line x1="550.50" y1="260.00" x2="553.90" y2="260.00" stroke="#1a1718" stroke-width="0.9" />
<line x1="550.50" y1="284.20" x2="553.90" y2="284.20" stroke="#1a1718" stroke-width="0.9" />
<circle cx="552.2" cy="272" r="2.9" fill="#141112"/>
<line x1="566.20" y1="319.50" x2="566.20" y2="335.30" stroke="#1a1718" stroke-width="0.9" />
<line x1="564.50" y1="319.50" x2="567.90" y2="319.50" stroke="#1a1718" stroke-width="0.9" />
<line x1="564.50" y1="335.30" x2="567.90" y2="335.30" stroke="#1a1718" stroke-width="0.9" />
<circle cx="566.2" cy="326.8" r="2.9" fill="#141112"/>
<line x1="580.50" y1="318.20" x2="580.50" y2="331.40" stroke="#1a1718" stroke-width="0.9" />
<line x1="578.80" y1="318.20" x2="582.20" y2="318.20" stroke="#1a1718" stroke-width="0.9" />
<line x1="578.80" y1="331.40" x2="582.20" y2="331.40" stroke="#1a1718" stroke-width="0.9" />
<circle cx="580.5" cy="324.9" r="2.9" fill="#141112"/>
<line x1="594.70" y1="312.40" x2="594.70" y2="327.60" stroke="#1a1718" stroke-width="0.9" />
<line x1="593.00" y1="312.40" x2="596.40" y2="312.40" stroke="#1a1718" stroke-width="0.9" />
<line x1="593.00" y1="327.60" x2="596.40" y2="327.60" stroke="#1a1718" stroke-width="0.9" />
<circle cx="594.7" cy="320.1" r="2.9" fill="#141112"/>
<line x1="608.50" y1="312.20" x2="608.50" y2="329.30" stroke="#1a1718" stroke-width="0.9" />
<line x1="606.80" y1="312.20" x2="610.20" y2="312.20" stroke="#1a1718" stroke-width="0.9" />
<line x1="606.80" y1="329.30" x2="610.20" y2="329.30" stroke="#1a1718" stroke-width="0.9" />
<circle cx="608.5" cy="321" r="2.9" fill="#141112"/>
<line x1="622.60" y1="297.50" x2="622.60" y2="321.10" stroke="#1a1718" stroke-width="0.9" />
<line x1="620.90" y1="297.50" x2="624.30" y2="297.50" stroke="#1a1718" stroke-width="0.9" />
<line x1="620.90" y1="321.10" x2="624.30" y2="321.10" stroke="#1a1718" stroke-width="0.9" />
<circle cx="622.6" cy="309" r="2.9" fill="#141112"/>
<line x1="636.80" y1="314.60" x2="636.80" y2="329.50" stroke="#1a1718" stroke-width="0.9" />
<line x1="635.10" y1="314.60" x2="638.50" y2="314.60" stroke="#1a1718" stroke-width="0.9" />
<line x1="635.10" y1="329.50" x2="638.50" y2="329.50" stroke="#1a1718" stroke-width="0.9" />
<circle cx="636.8" cy="322" r="2.9" fill="#141112"/>
<line x1="650.80" y1="307.80" x2="650.80" y2="320.60" stroke="#1a1718" stroke-width="0.9" />
<line x1="649.10" y1="307.80" x2="652.50" y2="307.80" stroke="#1a1718" stroke-width="0.9" />
<line x1="649.10" y1="320.60" x2="652.50" y2="320.60" stroke="#1a1718" stroke-width="0.9" />
<circle cx="650.8" cy="314.3" r="2.9" fill="#141112"/>
<line x1="665.00" y1="313.90" x2="665.00" y2="325.90" stroke="#1a1718" stroke-width="0.9" />
<line x1="663.30" y1="313.90" x2="666.70" y2="313.90" stroke="#1a1718" stroke-width="0.9" />
<line x1="663.30" y1="325.90" x2="666.70" y2="325.90" stroke="#1a1718" stroke-width="0.9" />
<circle cx="665" cy="319.9" r="2.9" fill="#141112"/>
<line x1="679.50" y1="309.50" x2="679.50" y2="325.40" stroke="#1a1718" stroke-width="0.9" />
<line x1="677.80" y1="309.50" x2="681.20" y2="309.50" stroke="#1a1718" stroke-width="0.9" />
<line x1="677.80" y1="325.40" x2="681.20" y2="325.40" stroke="#1a1718" stroke-width="0.9" />
<circle cx="679.5" cy="317.7" r="2.9" fill="#141112"/>
<line x1="559.30" y1="250.70" x2="559.30" y2="266.50" stroke="#1a1718" stroke-width="1.0" />
<polygon points="556.9,263.6 561.6999999999999,263.6 559.3,270.5" fill="#1a1718"/>
<line x1="610.90" y1="284.90" x2="610.90" y2="305.00" stroke="#1a1718" stroke-width="1.0" />
<polygon points="608.5,302.1 613.3,302.1 610.9,309" fill="#1a1718"/>
<text x="550.8" y="246.3" font-size="10.4" textLength="14.0" lengthAdjust="spacingAndGlyphs" fill="#1a1718" stroke="#1a1718" stroke-width="0.28" >CCI</text>
<text x="564.5" y="289.6" font-size="10.4" textLength="20.4" lengthAdjust="spacingAndGlyphs" fill="#1a1718" stroke="#1a1718" stroke-width="0.28" >21 d</text>
<text x="606.7" y="274.1" font-size="10.4" textLength="24.1" lengthAdjust="spacingAndGlyphs" fill="#1a1718" stroke="#1a1718" stroke-width="0.28" >Light</text>
</svg>
</body></html>
